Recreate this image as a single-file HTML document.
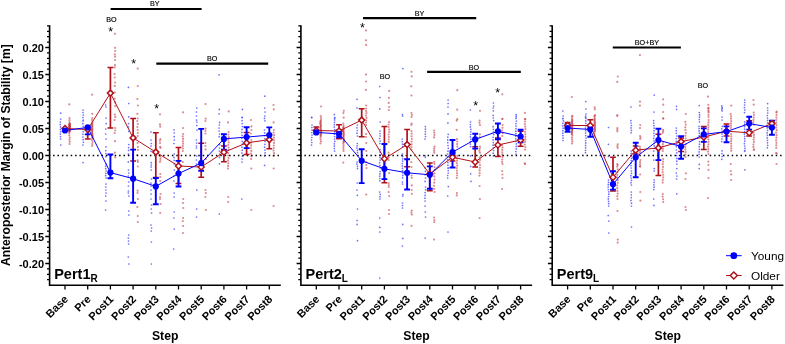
<!DOCTYPE html>
<html><head><meta charset="utf-8"><title>Margin of Stability</title><style>
html,body{margin:0;padding:0;background:#fff;}
body{width:785px;height:344px;overflow:hidden;}
svg{display:block;}
text{font-family:"Liberation Sans",Arial,sans-serif;fill:#000;}
.xl{font-size:11px;font-weight:bold;}
.yl{font-size:11px;font-weight:bold;}
.yt{font-size:12.1px;font-weight:bold;}
.st{font-size:12.2px;font-weight:bold;}
.pn{font-size:14.5px;font-weight:bold;}
.sub{font-size:10px;}
.an{font-size:7.2px;stroke:#000;stroke-width:0.15px;}
.ast{font-size:12.5px;font-weight:normal;}
.lg{font-size:11.8px;}
</style></head>
<body>
<svg width="785" height="344" viewBox="0 0 785 344">
<rect width="785" height="344" fill="#fff"/>
<circle cx="60.7" cy="113.2" r="0.85" fill="#4848ff" fill-opacity="0.8"/>
<circle cx="60.7" cy="119.0" r="0.85" fill="#4848ff" fill-opacity="0.8"/>
<circle cx="60.4" cy="122.0" r="0.85" fill="#4848ff" fill-opacity="0.8"/>
<circle cx="60.3" cy="124.4" r="0.85" fill="#4848ff" fill-opacity="0.8"/>
<circle cx="60.5" cy="126.9" r="0.85" fill="#4848ff" fill-opacity="0.8"/>
<circle cx="60.4" cy="129.3" r="0.85" fill="#4848ff" fill-opacity="0.8"/>
<circle cx="60.7" cy="131.7" r="0.85" fill="#4848ff" fill-opacity="0.8"/>
<circle cx="60.4" cy="134.1" r="0.85" fill="#4848ff" fill-opacity="0.8"/>
<circle cx="60.5" cy="136.6" r="0.85" fill="#4848ff" fill-opacity="0.8"/>
<circle cx="60.6" cy="139.0" r="0.85" fill="#4848ff" fill-opacity="0.8"/>
<circle cx="60.8" cy="145.0" r="0.85" fill="#4848ff" fill-opacity="0.8"/>
<circle cx="83.1" cy="110.0" r="0.85" fill="#4848ff" fill-opacity="0.8"/>
<circle cx="83.0" cy="112.5" r="0.85" fill="#4848ff" fill-opacity="0.8"/>
<circle cx="83.3" cy="115.0" r="0.85" fill="#4848ff" fill-opacity="0.8"/>
<circle cx="82.9" cy="117.5" r="0.85" fill="#4848ff" fill-opacity="0.8"/>
<circle cx="83.2" cy="120.0" r="0.85" fill="#4848ff" fill-opacity="0.8"/>
<circle cx="83.1" cy="121.0" r="0.85" fill="#4848ff" fill-opacity="0.8"/>
<circle cx="82.9" cy="123.7" r="0.85" fill="#4848ff" fill-opacity="0.8"/>
<circle cx="83.2" cy="126.3" r="0.85" fill="#4848ff" fill-opacity="0.8"/>
<circle cx="82.9" cy="129.0" r="0.85" fill="#4848ff" fill-opacity="0.8"/>
<circle cx="83.2" cy="131.7" r="0.85" fill="#4848ff" fill-opacity="0.8"/>
<circle cx="82.9" cy="134.3" r="0.85" fill="#4848ff" fill-opacity="0.8"/>
<circle cx="82.9" cy="137.0" r="0.85" fill="#4848ff" fill-opacity="0.8"/>
<circle cx="83.1" cy="139.7" r="0.85" fill="#4848ff" fill-opacity="0.8"/>
<circle cx="83.4" cy="142.3" r="0.85" fill="#4848ff" fill-opacity="0.8"/>
<circle cx="82.9" cy="145.0" r="0.85" fill="#4848ff" fill-opacity="0.8"/>
<circle cx="83.0" cy="162.6" r="0.85" fill="#4848ff" fill-opacity="0.8"/>
<circle cx="105.6" cy="105.0" r="0.85" fill="#4848ff" fill-opacity="0.8"/>
<circle cx="106.0" cy="107.0" r="0.85" fill="#4848ff" fill-opacity="0.8"/>
<circle cx="106.0" cy="118.0" r="0.85" fill="#4848ff" fill-opacity="0.8"/>
<circle cx="106.2" cy="123.6" r="0.85" fill="#4848ff" fill-opacity="0.8"/>
<circle cx="105.7" cy="129.0" r="0.85" fill="#4848ff" fill-opacity="0.8"/>
<circle cx="105.7" cy="134.0" r="0.85" fill="#4848ff" fill-opacity="0.8"/>
<circle cx="106.1" cy="139.0" r="0.85" fill="#4848ff" fill-opacity="0.8"/>
<circle cx="106.0" cy="146.8" r="0.85" fill="#4848ff" fill-opacity="0.8"/>
<circle cx="105.8" cy="150.6" r="0.85" fill="#4848ff" fill-opacity="0.8"/>
<circle cx="106.0" cy="153.6" r="0.85" fill="#4848ff" fill-opacity="0.8"/>
<circle cx="105.8" cy="156.6" r="0.85" fill="#4848ff" fill-opacity="0.8"/>
<circle cx="106.1" cy="164.0" r="0.85" fill="#4848ff" fill-opacity="0.8"/>
<circle cx="105.6" cy="166.3" r="0.85" fill="#4848ff" fill-opacity="0.8"/>
<circle cx="105.7" cy="168.7" r="0.85" fill="#4848ff" fill-opacity="0.8"/>
<circle cx="106.2" cy="171.0" r="0.85" fill="#4848ff" fill-opacity="0.8"/>
<circle cx="105.8" cy="173.3" r="0.85" fill="#4848ff" fill-opacity="0.8"/>
<circle cx="105.7" cy="175.7" r="0.85" fill="#4848ff" fill-opacity="0.8"/>
<circle cx="106.1" cy="178.0" r="0.85" fill="#4848ff" fill-opacity="0.8"/>
<circle cx="106.0" cy="184.0" r="0.85" fill="#4848ff" fill-opacity="0.8"/>
<circle cx="105.7" cy="187.0" r="0.85" fill="#4848ff" fill-opacity="0.8"/>
<circle cx="105.9" cy="190.0" r="0.85" fill="#4848ff" fill-opacity="0.8"/>
<circle cx="106.0" cy="193.0" r="0.85" fill="#4848ff" fill-opacity="0.8"/>
<circle cx="105.7" cy="196.0" r="0.85" fill="#4848ff" fill-opacity="0.8"/>
<circle cx="106.0" cy="201.0" r="0.85" fill="#4848ff" fill-opacity="0.8"/>
<circle cx="105.6" cy="210.0" r="0.85" fill="#4848ff" fill-opacity="0.8"/>
<circle cx="128.4" cy="87.4" r="0.85" fill="#4848ff" fill-opacity="0.8"/>
<circle cx="128.7" cy="103.5" r="0.85" fill="#4848ff" fill-opacity="0.8"/>
<circle cx="128.7" cy="116.8" r="0.85" fill="#4848ff" fill-opacity="0.8"/>
<circle cx="128.6" cy="123.6" r="0.85" fill="#4848ff" fill-opacity="0.8"/>
<circle cx="128.4" cy="127.0" r="0.85" fill="#4848ff" fill-opacity="0.8"/>
<circle cx="128.8" cy="131.3" r="0.85" fill="#4848ff" fill-opacity="0.8"/>
<circle cx="128.8" cy="144.5" r="0.85" fill="#4848ff" fill-opacity="0.8"/>
<circle cx="128.6" cy="147.6" r="0.85" fill="#4848ff" fill-opacity="0.8"/>
<circle cx="128.6" cy="150.4" r="0.85" fill="#4848ff" fill-opacity="0.8"/>
<circle cx="128.4" cy="154.2" r="0.85" fill="#4848ff" fill-opacity="0.8"/>
<circle cx="128.3" cy="161.9" r="0.85" fill="#4848ff" fill-opacity="0.8"/>
<circle cx="128.5" cy="170.0" r="0.85" fill="#4848ff" fill-opacity="0.8"/>
<circle cx="128.7" cy="173.0" r="0.85" fill="#4848ff" fill-opacity="0.8"/>
<circle cx="128.3" cy="176.0" r="0.85" fill="#4848ff" fill-opacity="0.8"/>
<circle cx="128.8" cy="182.0" r="0.85" fill="#4848ff" fill-opacity="0.8"/>
<circle cx="128.4" cy="186.0" r="0.85" fill="#4848ff" fill-opacity="0.8"/>
<circle cx="128.4" cy="191.0" r="0.85" fill="#4848ff" fill-opacity="0.8"/>
<circle cx="128.3" cy="193.0" r="0.85" fill="#4848ff" fill-opacity="0.8"/>
<circle cx="128.9" cy="196.0" r="0.85" fill="#4848ff" fill-opacity="0.8"/>
<circle cx="128.8" cy="211.0" r="0.85" fill="#4848ff" fill-opacity="0.8"/>
<circle cx="128.9" cy="215.0" r="0.85" fill="#4848ff" fill-opacity="0.8"/>
<circle cx="128.7" cy="235.0" r="0.85" fill="#4848ff" fill-opacity="0.8"/>
<circle cx="128.3" cy="238.0" r="0.85" fill="#4848ff" fill-opacity="0.8"/>
<circle cx="128.5" cy="241.0" r="0.85" fill="#4848ff" fill-opacity="0.8"/>
<circle cx="128.6" cy="244.0" r="0.85" fill="#4848ff" fill-opacity="0.8"/>
<circle cx="128.3" cy="257.0" r="0.85" fill="#4848ff" fill-opacity="0.8"/>
<circle cx="128.9" cy="264.0" r="0.85" fill="#4848ff" fill-opacity="0.8"/>
<circle cx="151.0" cy="132.0" r="0.85" fill="#4848ff" fill-opacity="0.8"/>
<circle cx="151.0" cy="140.0" r="0.85" fill="#4848ff" fill-opacity="0.8"/>
<circle cx="151.4" cy="143.5" r="0.85" fill="#4848ff" fill-opacity="0.8"/>
<circle cx="151.1" cy="146.0" r="0.85" fill="#4848ff" fill-opacity="0.8"/>
<circle cx="151.0" cy="151.3" r="0.85" fill="#4848ff" fill-opacity="0.8"/>
<circle cx="151.3" cy="162.7" r="0.85" fill="#4848ff" fill-opacity="0.8"/>
<circle cx="151.2" cy="165.0" r="0.85" fill="#4848ff" fill-opacity="0.8"/>
<circle cx="151.1" cy="167.0" r="0.85" fill="#4848ff" fill-opacity="0.8"/>
<circle cx="151.2" cy="170.0" r="0.85" fill="#4848ff" fill-opacity="0.8"/>
<circle cx="151.5" cy="179.0" r="0.85" fill="#4848ff" fill-opacity="0.8"/>
<circle cx="151.0" cy="183.0" r="0.85" fill="#4848ff" fill-opacity="0.8"/>
<circle cx="151.1" cy="186.0" r="0.85" fill="#4848ff" fill-opacity="0.8"/>
<circle cx="151.0" cy="190.0" r="0.85" fill="#4848ff" fill-opacity="0.8"/>
<circle cx="151.1" cy="194.0" r="0.85" fill="#4848ff" fill-opacity="0.8"/>
<circle cx="151.0" cy="199.0" r="0.85" fill="#4848ff" fill-opacity="0.8"/>
<circle cx="151.6" cy="205.0" r="0.85" fill="#4848ff" fill-opacity="0.8"/>
<circle cx="151.2" cy="209.0" r="0.85" fill="#4848ff" fill-opacity="0.8"/>
<circle cx="151.6" cy="213.0" r="0.85" fill="#4848ff" fill-opacity="0.8"/>
<circle cx="151.0" cy="225.0" r="0.85" fill="#4848ff" fill-opacity="0.8"/>
<circle cx="151.6" cy="228.0" r="0.85" fill="#4848ff" fill-opacity="0.8"/>
<circle cx="151.3" cy="231.0" r="0.85" fill="#4848ff" fill-opacity="0.8"/>
<circle cx="151.4" cy="242.0" r="0.85" fill="#4848ff" fill-opacity="0.8"/>
<circle cx="151.4" cy="264.0" r="0.85" fill="#4848ff" fill-opacity="0.8"/>
<circle cx="174.0" cy="129.8" r="0.85" fill="#4848ff" fill-opacity="0.8"/>
<circle cx="174.2" cy="133.0" r="0.85" fill="#4848ff" fill-opacity="0.8"/>
<circle cx="174.2" cy="136.7" r="0.85" fill="#4848ff" fill-opacity="0.8"/>
<circle cx="174.3" cy="140.0" r="0.85" fill="#4848ff" fill-opacity="0.8"/>
<circle cx="173.9" cy="143.5" r="0.85" fill="#4848ff" fill-opacity="0.8"/>
<circle cx="174.3" cy="154.0" r="0.85" fill="#4848ff" fill-opacity="0.8"/>
<circle cx="174.0" cy="157.4" r="0.85" fill="#4848ff" fill-opacity="0.8"/>
<circle cx="174.2" cy="160.3" r="0.85" fill="#4848ff" fill-opacity="0.8"/>
<circle cx="174.2" cy="163.8" r="0.85" fill="#4848ff" fill-opacity="0.8"/>
<circle cx="174.3" cy="170.0" r="0.85" fill="#4848ff" fill-opacity="0.8"/>
<circle cx="173.8" cy="176.0" r="0.85" fill="#4848ff" fill-opacity="0.8"/>
<circle cx="173.9" cy="181.0" r="0.85" fill="#4848ff" fill-opacity="0.8"/>
<circle cx="174.2" cy="193.0" r="0.85" fill="#4848ff" fill-opacity="0.8"/>
<circle cx="174.1" cy="197.0" r="0.85" fill="#4848ff" fill-opacity="0.8"/>
<circle cx="174.2" cy="212.0" r="0.85" fill="#4848ff" fill-opacity="0.8"/>
<circle cx="173.9" cy="218.0" r="0.85" fill="#4848ff" fill-opacity="0.8"/>
<circle cx="174.3" cy="229.0" r="0.85" fill="#4848ff" fill-opacity="0.8"/>
<circle cx="173.7" cy="249.0" r="0.85" fill="#4848ff" fill-opacity="0.8"/>
<circle cx="196.8" cy="108.0" r="0.85" fill="#4848ff" fill-opacity="0.8"/>
<circle cx="196.4" cy="112.0" r="0.85" fill="#4848ff" fill-opacity="0.8"/>
<circle cx="196.5" cy="116.0" r="0.85" fill="#4848ff" fill-opacity="0.8"/>
<circle cx="196.5" cy="120.0" r="0.85" fill="#4848ff" fill-opacity="0.8"/>
<circle cx="196.9" cy="122.0" r="0.85" fill="#4848ff" fill-opacity="0.8"/>
<circle cx="196.8" cy="125.5" r="0.85" fill="#4848ff" fill-opacity="0.8"/>
<circle cx="197.0" cy="130.0" r="0.85" fill="#4848ff" fill-opacity="0.8"/>
<circle cx="196.4" cy="140.0" r="0.85" fill="#4848ff" fill-opacity="0.8"/>
<circle cx="196.6" cy="143.0" r="0.85" fill="#4848ff" fill-opacity="0.8"/>
<circle cx="196.4" cy="146.0" r="0.85" fill="#4848ff" fill-opacity="0.8"/>
<circle cx="196.5" cy="148.0" r="0.85" fill="#4848ff" fill-opacity="0.8"/>
<circle cx="196.7" cy="156.0" r="0.85" fill="#4848ff" fill-opacity="0.8"/>
<circle cx="196.4" cy="160.0" r="0.85" fill="#4848ff" fill-opacity="0.8"/>
<circle cx="196.5" cy="164.0" r="0.85" fill="#4848ff" fill-opacity="0.8"/>
<circle cx="196.8" cy="190.0" r="0.85" fill="#4848ff" fill-opacity="0.8"/>
<circle cx="196.7" cy="209.0" r="0.85" fill="#4848ff" fill-opacity="0.8"/>
<circle cx="196.5" cy="217.0" r="0.85" fill="#4848ff" fill-opacity="0.8"/>
<circle cx="219.1" cy="74.8" r="0.85" fill="#4848ff" fill-opacity="0.8"/>
<circle cx="219.3" cy="109.4" r="0.85" fill="#4848ff" fill-opacity="0.8"/>
<circle cx="219.1" cy="113.8" r="0.85" fill="#4848ff" fill-opacity="0.8"/>
<circle cx="219.6" cy="122.4" r="0.85" fill="#4848ff" fill-opacity="0.8"/>
<circle cx="219.4" cy="125.0" r="0.85" fill="#4848ff" fill-opacity="0.8"/>
<circle cx="219.1" cy="128.0" r="0.85" fill="#4848ff" fill-opacity="0.8"/>
<circle cx="219.1" cy="131.0" r="0.85" fill="#4848ff" fill-opacity="0.8"/>
<circle cx="219.6" cy="134.0" r="0.85" fill="#4848ff" fill-opacity="0.8"/>
<circle cx="219.2" cy="136.7" r="0.85" fill="#4848ff" fill-opacity="0.8"/>
<circle cx="219.6" cy="144.7" r="0.85" fill="#4848ff" fill-opacity="0.8"/>
<circle cx="219.5" cy="148.0" r="0.85" fill="#4848ff" fill-opacity="0.8"/>
<circle cx="219.4" cy="151.0" r="0.85" fill="#4848ff" fill-opacity="0.8"/>
<circle cx="219.6" cy="154.0" r="0.85" fill="#4848ff" fill-opacity="0.8"/>
<circle cx="219.5" cy="157.4" r="0.85" fill="#4848ff" fill-opacity="0.8"/>
<circle cx="219.5" cy="163.8" r="0.85" fill="#4848ff" fill-opacity="0.8"/>
<circle cx="219.3" cy="214.0" r="0.85" fill="#4848ff" fill-opacity="0.8"/>
<circle cx="242.4" cy="109.4" r="0.85" fill="#4848ff" fill-opacity="0.8"/>
<circle cx="242.1" cy="117.3" r="0.85" fill="#4848ff" fill-opacity="0.8"/>
<circle cx="242.1" cy="117.6" r="0.85" fill="#4848ff" fill-opacity="0.8"/>
<circle cx="242.1" cy="120.6" r="0.85" fill="#4848ff" fill-opacity="0.8"/>
<circle cx="242.3" cy="123.5" r="0.85" fill="#4848ff" fill-opacity="0.8"/>
<circle cx="242.4" cy="126.5" r="0.85" fill="#4848ff" fill-opacity="0.8"/>
<circle cx="242.0" cy="129.4" r="0.85" fill="#4848ff" fill-opacity="0.8"/>
<circle cx="241.9" cy="132.4" r="0.85" fill="#4848ff" fill-opacity="0.8"/>
<circle cx="242.0" cy="135.4" r="0.85" fill="#4848ff" fill-opacity="0.8"/>
<circle cx="241.8" cy="138.3" r="0.85" fill="#4848ff" fill-opacity="0.8"/>
<circle cx="242.2" cy="141.3" r="0.85" fill="#4848ff" fill-opacity="0.8"/>
<circle cx="242.4" cy="144.2" r="0.85" fill="#4848ff" fill-opacity="0.8"/>
<circle cx="241.9" cy="147.2" r="0.85" fill="#4848ff" fill-opacity="0.8"/>
<circle cx="242.3" cy="150.2" r="0.85" fill="#4848ff" fill-opacity="0.8"/>
<circle cx="241.9" cy="153.1" r="0.85" fill="#4848ff" fill-opacity="0.8"/>
<circle cx="242.4" cy="156.1" r="0.85" fill="#4848ff" fill-opacity="0.8"/>
<circle cx="242.1" cy="159.0" r="0.85" fill="#4848ff" fill-opacity="0.8"/>
<circle cx="242.0" cy="162.0" r="0.85" fill="#4848ff" fill-opacity="0.8"/>
<circle cx="241.8" cy="199.0" r="0.85" fill="#4848ff" fill-opacity="0.8"/>
<circle cx="264.8" cy="96.2" r="0.85" fill="#4848ff" fill-opacity="0.8"/>
<circle cx="264.7" cy="108.0" r="0.85" fill="#4848ff" fill-opacity="0.8"/>
<circle cx="265.1" cy="112.0" r="0.85" fill="#4848ff" fill-opacity="0.8"/>
<circle cx="264.8" cy="116.0" r="0.85" fill="#4848ff" fill-opacity="0.8"/>
<circle cx="264.5" cy="118.4" r="0.85" fill="#4848ff" fill-opacity="0.8"/>
<circle cx="265.0" cy="120.8" r="0.85" fill="#4848ff" fill-opacity="0.8"/>
<circle cx="264.5" cy="130.0" r="0.85" fill="#4848ff" fill-opacity="0.8"/>
<circle cx="264.6" cy="132.9" r="0.85" fill="#4848ff" fill-opacity="0.8"/>
<circle cx="264.5" cy="135.7" r="0.85" fill="#4848ff" fill-opacity="0.8"/>
<circle cx="264.9" cy="138.6" r="0.85" fill="#4848ff" fill-opacity="0.8"/>
<circle cx="265.0" cy="141.5" r="0.85" fill="#4848ff" fill-opacity="0.8"/>
<circle cx="264.9" cy="144.3" r="0.85" fill="#4848ff" fill-opacity="0.8"/>
<circle cx="264.6" cy="147.2" r="0.85" fill="#4848ff" fill-opacity="0.8"/>
<circle cx="265.0" cy="150.1" r="0.85" fill="#4848ff" fill-opacity="0.8"/>
<circle cx="265.1" cy="152.9" r="0.85" fill="#4848ff" fill-opacity="0.8"/>
<circle cx="264.7" cy="155.8" r="0.85" fill="#4848ff" fill-opacity="0.8"/>
<circle cx="264.6" cy="165.4" r="0.85" fill="#4848ff" fill-opacity="0.8"/>
<circle cx="69.3" cy="104.4" r="1.1" fill="#c0303a" fill-opacity="0.55"/>
<circle cx="69.5" cy="118.0" r="1.1" fill="#c0303a" fill-opacity="0.55"/>
<circle cx="69.4" cy="120.2" r="1.1" fill="#c0303a" fill-opacity="0.55"/>
<circle cx="69.6" cy="122.3" r="1.1" fill="#c0303a" fill-opacity="0.55"/>
<circle cx="69.6" cy="124.5" r="1.1" fill="#c0303a" fill-opacity="0.55"/>
<circle cx="69.2" cy="126.7" r="1.1" fill="#c0303a" fill-opacity="0.55"/>
<circle cx="69.2" cy="128.8" r="1.1" fill="#c0303a" fill-opacity="0.55"/>
<circle cx="69.7" cy="131.0" r="1.1" fill="#c0303a" fill-opacity="0.55"/>
<circle cx="69.3" cy="133.2" r="1.1" fill="#c0303a" fill-opacity="0.55"/>
<circle cx="69.3" cy="135.3" r="1.1" fill="#c0303a" fill-opacity="0.55"/>
<circle cx="69.8" cy="137.5" r="1.1" fill="#c0303a" fill-opacity="0.55"/>
<circle cx="69.5" cy="139.7" r="1.1" fill="#c0303a" fill-opacity="0.55"/>
<circle cx="69.7" cy="141.8" r="1.1" fill="#c0303a" fill-opacity="0.55"/>
<circle cx="69.5" cy="144.0" r="1.1" fill="#c0303a" fill-opacity="0.55"/>
<circle cx="69.6" cy="123.5" r="1.1" fill="#c0303a" fill-opacity="0.55"/>
<circle cx="69.3" cy="124.3" r="1.1" fill="#c0303a" fill-opacity="0.55"/>
<circle cx="69.6" cy="125.0" r="1.1" fill="#c0303a" fill-opacity="0.55"/>
<circle cx="69.8" cy="125.8" r="1.1" fill="#c0303a" fill-opacity="0.55"/>
<circle cx="69.5" cy="126.6" r="1.1" fill="#c0303a" fill-opacity="0.55"/>
<circle cx="69.7" cy="127.4" r="1.1" fill="#c0303a" fill-opacity="0.55"/>
<circle cx="69.6" cy="128.1" r="1.1" fill="#c0303a" fill-opacity="0.55"/>
<circle cx="69.2" cy="128.9" r="1.1" fill="#c0303a" fill-opacity="0.55"/>
<circle cx="69.7" cy="129.7" r="1.1" fill="#c0303a" fill-opacity="0.55"/>
<circle cx="69.6" cy="130.5" r="1.1" fill="#c0303a" fill-opacity="0.55"/>
<circle cx="69.4" cy="131.2" r="1.1" fill="#c0303a" fill-opacity="0.55"/>
<circle cx="69.2" cy="132.0" r="1.1" fill="#c0303a" fill-opacity="0.55"/>
<circle cx="69.8" cy="124.0" r="1.1" fill="#c0303a" fill-opacity="0.55"/>
<circle cx="69.5" cy="124.9" r="1.1" fill="#c0303a" fill-opacity="0.55"/>
<circle cx="69.7" cy="125.8" r="1.1" fill="#c0303a" fill-opacity="0.55"/>
<circle cx="69.8" cy="126.6" r="1.1" fill="#c0303a" fill-opacity="0.55"/>
<circle cx="69.6" cy="127.5" r="1.1" fill="#c0303a" fill-opacity="0.55"/>
<circle cx="69.8" cy="128.4" r="1.1" fill="#c0303a" fill-opacity="0.55"/>
<circle cx="69.4" cy="129.2" r="1.1" fill="#c0303a" fill-opacity="0.55"/>
<circle cx="69.7" cy="130.1" r="1.1" fill="#c0303a" fill-opacity="0.55"/>
<circle cx="69.5" cy="131.0" r="1.1" fill="#c0303a" fill-opacity="0.55"/>
<circle cx="92.2" cy="94.7" r="1.1" fill="#c0303a" fill-opacity="0.55"/>
<circle cx="92.2" cy="113.8" r="1.1" fill="#c0303a" fill-opacity="0.55"/>
<circle cx="92.3" cy="118.0" r="1.1" fill="#c0303a" fill-opacity="0.55"/>
<circle cx="92.0" cy="120.0" r="1.1" fill="#c0303a" fill-opacity="0.55"/>
<circle cx="92.4" cy="122.0" r="1.1" fill="#c0303a" fill-opacity="0.55"/>
<circle cx="92.4" cy="124.0" r="1.1" fill="#c0303a" fill-opacity="0.55"/>
<circle cx="92.3" cy="126.0" r="1.1" fill="#c0303a" fill-opacity="0.55"/>
<circle cx="92.0" cy="128.0" r="1.1" fill="#c0303a" fill-opacity="0.55"/>
<circle cx="92.2" cy="130.0" r="1.1" fill="#c0303a" fill-opacity="0.55"/>
<circle cx="92.1" cy="132.0" r="1.1" fill="#c0303a" fill-opacity="0.55"/>
<circle cx="92.0" cy="134.0" r="1.1" fill="#c0303a" fill-opacity="0.55"/>
<circle cx="92.5" cy="136.0" r="1.1" fill="#c0303a" fill-opacity="0.55"/>
<circle cx="92.5" cy="138.0" r="1.1" fill="#c0303a" fill-opacity="0.55"/>
<circle cx="91.9" cy="140.0" r="1.1" fill="#c0303a" fill-opacity="0.55"/>
<circle cx="92.5" cy="142.0" r="1.1" fill="#c0303a" fill-opacity="0.55"/>
<circle cx="92.3" cy="144.0" r="1.1" fill="#c0303a" fill-opacity="0.55"/>
<circle cx="92.1" cy="146.0" r="1.1" fill="#c0303a" fill-opacity="0.55"/>
<circle cx="92.0" cy="124.0" r="1.1" fill="#c0303a" fill-opacity="0.55"/>
<circle cx="92.3" cy="125.6" r="1.1" fill="#c0303a" fill-opacity="0.55"/>
<circle cx="92.2" cy="127.1" r="1.1" fill="#c0303a" fill-opacity="0.55"/>
<circle cx="92.3" cy="128.7" r="1.1" fill="#c0303a" fill-opacity="0.55"/>
<circle cx="92.3" cy="130.2" r="1.1" fill="#c0303a" fill-opacity="0.55"/>
<circle cx="91.9" cy="131.8" r="1.1" fill="#c0303a" fill-opacity="0.55"/>
<circle cx="92.4" cy="133.3" r="1.1" fill="#c0303a" fill-opacity="0.55"/>
<circle cx="92.5" cy="134.9" r="1.1" fill="#c0303a" fill-opacity="0.55"/>
<circle cx="92.5" cy="136.4" r="1.1" fill="#c0303a" fill-opacity="0.55"/>
<circle cx="92.3" cy="138.0" r="1.1" fill="#c0303a" fill-opacity="0.55"/>
<circle cx="114.9" cy="33.8" r="1.1" fill="#c0303a" fill-opacity="0.55"/>
<circle cx="115.1" cy="47.8" r="1.1" fill="#c0303a" fill-opacity="0.55"/>
<circle cx="115.2" cy="51.0" r="1.1" fill="#c0303a" fill-opacity="0.55"/>
<circle cx="114.8" cy="54.4" r="1.1" fill="#c0303a" fill-opacity="0.55"/>
<circle cx="115.1" cy="56.7" r="1.1" fill="#c0303a" fill-opacity="0.55"/>
<circle cx="115.0" cy="60.0" r="1.1" fill="#c0303a" fill-opacity="0.55"/>
<circle cx="115.0" cy="65.1" r="1.1" fill="#c0303a" fill-opacity="0.55"/>
<circle cx="114.6" cy="67.4" r="1.1" fill="#c0303a" fill-opacity="0.55"/>
<circle cx="114.6" cy="74.1" r="1.1" fill="#c0303a" fill-opacity="0.55"/>
<circle cx="114.8" cy="77.5" r="1.1" fill="#c0303a" fill-opacity="0.55"/>
<circle cx="115.1" cy="82.5" r="1.1" fill="#c0303a" fill-opacity="0.55"/>
<circle cx="114.7" cy="85.9" r="1.1" fill="#c0303a" fill-opacity="0.55"/>
<circle cx="114.9" cy="92.5" r="1.1" fill="#c0303a" fill-opacity="0.55"/>
<circle cx="114.8" cy="98.6" r="1.1" fill="#c0303a" fill-opacity="0.55"/>
<circle cx="115.1" cy="102.4" r="1.1" fill="#c0303a" fill-opacity="0.55"/>
<circle cx="115.2" cy="106.2" r="1.1" fill="#c0303a" fill-opacity="0.55"/>
<circle cx="114.8" cy="114.6" r="1.1" fill="#c0303a" fill-opacity="0.55"/>
<circle cx="115.2" cy="116.9" r="1.1" fill="#c0303a" fill-opacity="0.55"/>
<circle cx="114.6" cy="120.0" r="1.1" fill="#c0303a" fill-opacity="0.55"/>
<circle cx="115.1" cy="128.0" r="1.1" fill="#c0303a" fill-opacity="0.55"/>
<circle cx="115.2" cy="130.5" r="1.1" fill="#c0303a" fill-opacity="0.55"/>
<circle cx="114.7" cy="133.0" r="1.1" fill="#c0303a" fill-opacity="0.55"/>
<circle cx="115.0" cy="141.2" r="1.1" fill="#c0303a" fill-opacity="0.55"/>
<circle cx="114.9" cy="152.7" r="1.1" fill="#c0303a" fill-opacity="0.55"/>
<circle cx="115.2" cy="157.3" r="1.1" fill="#c0303a" fill-opacity="0.55"/>
<circle cx="137.7" cy="68.6" r="1.1" fill="#c0303a" fill-opacity="0.55"/>
<circle cx="137.8" cy="86.0" r="1.1" fill="#c0303a" fill-opacity="0.55"/>
<circle cx="137.4" cy="99.0" r="1.1" fill="#c0303a" fill-opacity="0.55"/>
<circle cx="137.9" cy="105.5" r="1.1" fill="#c0303a" fill-opacity="0.55"/>
<circle cx="137.4" cy="113.9" r="1.1" fill="#c0303a" fill-opacity="0.55"/>
<circle cx="137.7" cy="118.5" r="1.1" fill="#c0303a" fill-opacity="0.55"/>
<circle cx="137.3" cy="121.0" r="1.1" fill="#c0303a" fill-opacity="0.55"/>
<circle cx="137.8" cy="124.0" r="1.1" fill="#c0303a" fill-opacity="0.55"/>
<circle cx="137.4" cy="127.0" r="1.1" fill="#c0303a" fill-opacity="0.55"/>
<circle cx="137.7" cy="130.0" r="1.1" fill="#c0303a" fill-opacity="0.55"/>
<circle cx="137.8" cy="133.0" r="1.1" fill="#c0303a" fill-opacity="0.55"/>
<circle cx="137.8" cy="136.0" r="1.1" fill="#c0303a" fill-opacity="0.55"/>
<circle cx="137.6" cy="143.0" r="1.1" fill="#c0303a" fill-opacity="0.55"/>
<circle cx="137.9" cy="147.0" r="1.1" fill="#c0303a" fill-opacity="0.55"/>
<circle cx="137.9" cy="149.8" r="1.1" fill="#c0303a" fill-opacity="0.55"/>
<circle cx="137.3" cy="155.0" r="1.1" fill="#c0303a" fill-opacity="0.55"/>
<circle cx="137.6" cy="160.4" r="1.1" fill="#c0303a" fill-opacity="0.55"/>
<circle cx="137.9" cy="162.0" r="1.1" fill="#c0303a" fill-opacity="0.55"/>
<circle cx="137.8" cy="166.5" r="1.1" fill="#c0303a" fill-opacity="0.55"/>
<circle cx="137.6" cy="190.7" r="1.1" fill="#c0303a" fill-opacity="0.55"/>
<circle cx="137.5" cy="193.0" r="1.1" fill="#c0303a" fill-opacity="0.55"/>
<circle cx="137.9" cy="199.0" r="1.1" fill="#c0303a" fill-opacity="0.55"/>
<circle cx="137.3" cy="207.0" r="1.1" fill="#c0303a" fill-opacity="0.55"/>
<circle cx="137.8" cy="216.0" r="1.1" fill="#c0303a" fill-opacity="0.55"/>
<circle cx="137.8" cy="222.0" r="1.1" fill="#c0303a" fill-opacity="0.55"/>
<circle cx="160.0" cy="114.3" r="1.1" fill="#c0303a" fill-opacity="0.55"/>
<circle cx="160.0" cy="124.4" r="1.1" fill="#c0303a" fill-opacity="0.55"/>
<circle cx="160.2" cy="126.7" r="1.1" fill="#c0303a" fill-opacity="0.55"/>
<circle cx="160.4" cy="139.0" r="1.1" fill="#c0303a" fill-opacity="0.55"/>
<circle cx="160.0" cy="140.5" r="1.1" fill="#c0303a" fill-opacity="0.55"/>
<circle cx="160.0" cy="143.0" r="1.1" fill="#c0303a" fill-opacity="0.55"/>
<circle cx="160.1" cy="146.8" r="1.1" fill="#c0303a" fill-opacity="0.55"/>
<circle cx="160.5" cy="148.0" r="1.1" fill="#c0303a" fill-opacity="0.55"/>
<circle cx="160.1" cy="156.0" r="1.1" fill="#c0303a" fill-opacity="0.55"/>
<circle cx="160.5" cy="158.0" r="1.1" fill="#c0303a" fill-opacity="0.55"/>
<circle cx="160.4" cy="160.0" r="1.1" fill="#c0303a" fill-opacity="0.55"/>
<circle cx="160.0" cy="162.0" r="1.1" fill="#c0303a" fill-opacity="0.55"/>
<circle cx="160.3" cy="174.0" r="1.1" fill="#c0303a" fill-opacity="0.55"/>
<circle cx="160.3" cy="177.0" r="1.1" fill="#c0303a" fill-opacity="0.55"/>
<circle cx="160.2" cy="181.0" r="1.1" fill="#c0303a" fill-opacity="0.55"/>
<circle cx="160.6" cy="194.0" r="1.1" fill="#c0303a" fill-opacity="0.55"/>
<circle cx="160.0" cy="197.0" r="1.1" fill="#c0303a" fill-opacity="0.55"/>
<circle cx="160.0" cy="199.0" r="1.1" fill="#c0303a" fill-opacity="0.55"/>
<circle cx="160.6" cy="204.0" r="1.1" fill="#c0303a" fill-opacity="0.55"/>
<circle cx="160.2" cy="213.0" r="1.1" fill="#c0303a" fill-opacity="0.55"/>
<circle cx="183.1" cy="112.3" r="1.1" fill="#c0303a" fill-opacity="0.55"/>
<circle cx="183.0" cy="128.0" r="1.1" fill="#c0303a" fill-opacity="0.55"/>
<circle cx="183.2" cy="134.0" r="1.1" fill="#c0303a" fill-opacity="0.55"/>
<circle cx="182.7" cy="136.4" r="1.1" fill="#c0303a" fill-opacity="0.55"/>
<circle cx="183.1" cy="138.9" r="1.1" fill="#c0303a" fill-opacity="0.55"/>
<circle cx="182.9" cy="141.3" r="1.1" fill="#c0303a" fill-opacity="0.55"/>
<circle cx="183.1" cy="143.7" r="1.1" fill="#c0303a" fill-opacity="0.55"/>
<circle cx="182.8" cy="146.1" r="1.1" fill="#c0303a" fill-opacity="0.55"/>
<circle cx="182.9" cy="148.6" r="1.1" fill="#c0303a" fill-opacity="0.55"/>
<circle cx="182.8" cy="151.0" r="1.1" fill="#c0303a" fill-opacity="0.55"/>
<circle cx="182.9" cy="162.0" r="1.1" fill="#c0303a" fill-opacity="0.55"/>
<circle cx="183.2" cy="199.0" r="1.1" fill="#c0303a" fill-opacity="0.55"/>
<circle cx="183.0" cy="203.0" r="1.1" fill="#c0303a" fill-opacity="0.55"/>
<circle cx="183.3" cy="208.0" r="1.1" fill="#c0303a" fill-opacity="0.55"/>
<circle cx="183.1" cy="218.0" r="1.1" fill="#c0303a" fill-opacity="0.55"/>
<circle cx="182.8" cy="221.0" r="1.1" fill="#c0303a" fill-opacity="0.55"/>
<circle cx="183.1" cy="226.0" r="1.1" fill="#c0303a" fill-opacity="0.55"/>
<circle cx="183.0" cy="233.0" r="1.1" fill="#c0303a" fill-opacity="0.55"/>
<circle cx="205.5" cy="104.1" r="1.1" fill="#c0303a" fill-opacity="0.55"/>
<circle cx="205.7" cy="118.7" r="1.1" fill="#c0303a" fill-opacity="0.55"/>
<circle cx="205.4" cy="121.0" r="1.1" fill="#c0303a" fill-opacity="0.55"/>
<circle cx="205.6" cy="128.7" r="1.1" fill="#c0303a" fill-opacity="0.55"/>
<circle cx="205.4" cy="131.0" r="1.1" fill="#c0303a" fill-opacity="0.55"/>
<circle cx="205.4" cy="133.5" r="1.1" fill="#c0303a" fill-opacity="0.55"/>
<circle cx="205.5" cy="143.0" r="1.1" fill="#c0303a" fill-opacity="0.55"/>
<circle cx="205.4" cy="146.0" r="1.1" fill="#c0303a" fill-opacity="0.55"/>
<circle cx="205.6" cy="149.4" r="1.1" fill="#c0303a" fill-opacity="0.55"/>
<circle cx="205.9" cy="159.0" r="1.1" fill="#c0303a" fill-opacity="0.55"/>
<circle cx="205.4" cy="190.0" r="1.1" fill="#c0303a" fill-opacity="0.55"/>
<circle cx="205.8" cy="193.0" r="1.1" fill="#c0303a" fill-opacity="0.55"/>
<circle cx="205.4" cy="197.0" r="1.1" fill="#c0303a" fill-opacity="0.55"/>
<circle cx="205.9" cy="210.0" r="1.1" fill="#c0303a" fill-opacity="0.55"/>
<circle cx="228.7" cy="111.4" r="1.1" fill="#c0303a" fill-opacity="0.55"/>
<circle cx="228.1" cy="122.4" r="1.1" fill="#c0303a" fill-opacity="0.55"/>
<circle cx="228.6" cy="132.0" r="1.1" fill="#c0303a" fill-opacity="0.55"/>
<circle cx="228.4" cy="134.6" r="1.1" fill="#c0303a" fill-opacity="0.55"/>
<circle cx="228.7" cy="137.2" r="1.1" fill="#c0303a" fill-opacity="0.55"/>
<circle cx="228.3" cy="139.8" r="1.1" fill="#c0303a" fill-opacity="0.55"/>
<circle cx="228.7" cy="142.4" r="1.1" fill="#c0303a" fill-opacity="0.55"/>
<circle cx="228.2" cy="145.0" r="1.1" fill="#c0303a" fill-opacity="0.55"/>
<circle cx="228.7" cy="147.6" r="1.1" fill="#c0303a" fill-opacity="0.55"/>
<circle cx="228.3" cy="150.2" r="1.1" fill="#c0303a" fill-opacity="0.55"/>
<circle cx="228.2" cy="152.9" r="1.1" fill="#c0303a" fill-opacity="0.55"/>
<circle cx="228.3" cy="155.5" r="1.1" fill="#c0303a" fill-opacity="0.55"/>
<circle cx="228.5" cy="158.1" r="1.1" fill="#c0303a" fill-opacity="0.55"/>
<circle cx="228.1" cy="160.7" r="1.1" fill="#c0303a" fill-opacity="0.55"/>
<circle cx="228.3" cy="163.3" r="1.1" fill="#c0303a" fill-opacity="0.55"/>
<circle cx="228.1" cy="165.9" r="1.1" fill="#c0303a" fill-opacity="0.55"/>
<circle cx="228.1" cy="168.5" r="1.1" fill="#c0303a" fill-opacity="0.55"/>
<circle cx="228.2" cy="197.0" r="1.1" fill="#c0303a" fill-opacity="0.55"/>
<circle cx="228.2" cy="202.0" r="1.1" fill="#c0303a" fill-opacity="0.55"/>
<circle cx="250.9" cy="120.0" r="1.1" fill="#c0303a" fill-opacity="0.55"/>
<circle cx="251.4" cy="126.4" r="1.1" fill="#c0303a" fill-opacity="0.55"/>
<circle cx="251.4" cy="130.0" r="1.1" fill="#c0303a" fill-opacity="0.55"/>
<circle cx="250.8" cy="133.5" r="1.1" fill="#c0303a" fill-opacity="0.55"/>
<circle cx="251.3" cy="140.0" r="1.1" fill="#c0303a" fill-opacity="0.55"/>
<circle cx="251.3" cy="142.7" r="1.1" fill="#c0303a" fill-opacity="0.55"/>
<circle cx="251.2" cy="145.4" r="1.1" fill="#c0303a" fill-opacity="0.55"/>
<circle cx="250.8" cy="148.1" r="1.1" fill="#c0303a" fill-opacity="0.55"/>
<circle cx="251.3" cy="150.9" r="1.1" fill="#c0303a" fill-opacity="0.55"/>
<circle cx="251.0" cy="153.6" r="1.1" fill="#c0303a" fill-opacity="0.55"/>
<circle cx="251.3" cy="156.3" r="1.1" fill="#c0303a" fill-opacity="0.55"/>
<circle cx="251.1" cy="159.0" r="1.1" fill="#c0303a" fill-opacity="0.55"/>
<circle cx="251.3" cy="168.5" r="1.1" fill="#c0303a" fill-opacity="0.55"/>
<circle cx="251.3" cy="210.0" r="1.1" fill="#c0303a" fill-opacity="0.55"/>
<circle cx="273.5" cy="105.0" r="1.1" fill="#c0303a" fill-opacity="0.55"/>
<circle cx="273.8" cy="109.4" r="1.1" fill="#c0303a" fill-opacity="0.55"/>
<circle cx="273.6" cy="122.4" r="1.1" fill="#c0303a" fill-opacity="0.55"/>
<circle cx="273.8" cy="130.0" r="1.1" fill="#c0303a" fill-opacity="0.55"/>
<circle cx="273.6" cy="132.6" r="1.1" fill="#c0303a" fill-opacity="0.55"/>
<circle cx="274.1" cy="135.2" r="1.1" fill="#c0303a" fill-opacity="0.55"/>
<circle cx="273.8" cy="137.7" r="1.1" fill="#c0303a" fill-opacity="0.55"/>
<circle cx="274.0" cy="140.3" r="1.1" fill="#c0303a" fill-opacity="0.55"/>
<circle cx="274.1" cy="142.9" r="1.1" fill="#c0303a" fill-opacity="0.55"/>
<circle cx="273.8" cy="145.5" r="1.1" fill="#c0303a" fill-opacity="0.55"/>
<circle cx="273.8" cy="148.1" r="1.1" fill="#c0303a" fill-opacity="0.55"/>
<circle cx="273.5" cy="150.6" r="1.1" fill="#c0303a" fill-opacity="0.55"/>
<circle cx="274.0" cy="153.2" r="1.1" fill="#c0303a" fill-opacity="0.55"/>
<circle cx="273.5" cy="155.8" r="1.1" fill="#c0303a" fill-opacity="0.55"/>
<circle cx="273.7" cy="168.5" r="1.1" fill="#c0303a" fill-opacity="0.55"/>
<circle cx="273.6" cy="206.0" r="1.1" fill="#c0303a" fill-opacity="0.55"/>
<line x1="49.6" y1="155.5" x2="280.8" y2="155.5" stroke="#000" stroke-width="1.5" stroke-dasharray="1.5 2.9" stroke-dashoffset="0.9"/>
<polyline points="65.0,128.5 87.7,129.5 110.4,93.1 133.1,137.9 155.8,152.1 178.5,166.0 201.2,167.0 223.9,152.3 246.6,142.9 269.3,139.6" fill="none" stroke="#b0121b" stroke-width="1"/>
<polyline points="65.0,130.5 87.7,127.4 110.4,172.6 133.1,178.7 155.8,186.4 178.5,173.6 201.2,163.1 223.9,138.9 246.6,137.1 269.3,135.1" fill="none" stroke="#0000ff" stroke-width="1"/>
<path d="M87.7 129.5V138.9" stroke="#b0121b" stroke-width="1.7" fill="none"/>
<path d="M84.8 129.5H90.6M84.8 138.9H90.6" stroke="#b0121b" stroke-width="1.5" fill="none"/>
<path d="M110.4 67.5V128.0" stroke="#b0121b" stroke-width="1.7" fill="none"/>
<path d="M107.5 67.5H113.3M107.5 128.0H113.3" stroke="#b0121b" stroke-width="1.5" fill="none"/>
<path d="M133.1 118.4V160.9" stroke="#b0121b" stroke-width="1.7" fill="none"/>
<path d="M130.2 118.4H136.0M130.2 160.9H136.0" stroke="#b0121b" stroke-width="1.5" fill="none"/>
<path d="M155.8 132.8V177.5" stroke="#b0121b" stroke-width="1.7" fill="none"/>
<path d="M152.9 132.8H158.7M152.9 177.5H158.7" stroke="#b0121b" stroke-width="1.5" fill="none"/>
<path d="M178.5 147.5V183.6" stroke="#b0121b" stroke-width="1.7" fill="none"/>
<path d="M175.6 147.5H181.4M175.6 183.6H181.4" stroke="#b0121b" stroke-width="1.5" fill="none"/>
<path d="M201.2 143.2V177.2" stroke="#b0121b" stroke-width="1.7" fill="none"/>
<path d="M198.3 143.2H204.1M198.3 177.2H204.1" stroke="#b0121b" stroke-width="1.5" fill="none"/>
<path d="M223.9 146.0V161.8" stroke="#b0121b" stroke-width="1.7" fill="none"/>
<path d="M221.0 146.0H226.8M221.0 161.8H226.8" stroke="#b0121b" stroke-width="1.5" fill="none"/>
<path d="M246.6 132.4V154.6" stroke="#b0121b" stroke-width="1.7" fill="none"/>
<path d="M243.7 132.4H249.5M243.7 154.6H249.5" stroke="#b0121b" stroke-width="1.5" fill="none"/>
<path d="M269.3 135.0V148.8" stroke="#b0121b" stroke-width="1.7" fill="none"/>
<path d="M266.4 135.0H272.2M266.4 148.8H272.2" stroke="#b0121b" stroke-width="1.5" fill="none"/>
<path d="M87.7 127.4V134.4" stroke="#0000ff" stroke-width="1.9" fill="none"/>
<path d="M84.8 127.4H90.6M84.8 134.4H90.6" stroke="#0000ff" stroke-width="1.9" fill="none"/>
<path d="M110.4 154.5V178.2" stroke="#0000ff" stroke-width="1.9" fill="none"/>
<path d="M107.5 154.5H113.3M107.5 178.2H113.3" stroke="#0000ff" stroke-width="1.9" fill="none"/>
<path d="M133.1 149.6V202.8" stroke="#0000ff" stroke-width="1.9" fill="none"/>
<path d="M130.2 149.6H136.0M130.2 202.8H136.0" stroke="#0000ff" stroke-width="1.9" fill="none"/>
<path d="M155.8 178.0V204.2" stroke="#0000ff" stroke-width="1.9" fill="none"/>
<path d="M152.9 178.0H158.7M152.9 204.2H158.7" stroke="#0000ff" stroke-width="1.9" fill="none"/>
<path d="M178.5 160.9V186.5" stroke="#0000ff" stroke-width="1.9" fill="none"/>
<path d="M175.6 160.9H181.4M175.6 186.5H181.4" stroke="#0000ff" stroke-width="1.9" fill="none"/>
<path d="M201.2 128.9V170.7" stroke="#0000ff" stroke-width="1.9" fill="none"/>
<path d="M198.3 128.9H204.1M198.3 170.7H204.1" stroke="#0000ff" stroke-width="1.9" fill="none"/>
<path d="M223.9 134.2V149.8" stroke="#0000ff" stroke-width="1.9" fill="none"/>
<path d="M221.0 134.2H226.8M221.0 149.8H226.8" stroke="#0000ff" stroke-width="1.9" fill="none"/>
<path d="M246.6 127.2V148.1" stroke="#0000ff" stroke-width="1.9" fill="none"/>
<path d="M243.7 127.2H249.5M243.7 148.1H249.5" stroke="#0000ff" stroke-width="1.9" fill="none"/>
<path d="M269.3 127.4V139.6" stroke="#0000ff" stroke-width="1.9" fill="none"/>
<path d="M266.4 127.4H272.2M266.4 139.6H272.2" stroke="#0000ff" stroke-width="1.9" fill="none"/>
<path d="M65.0 125.5L68.0 128.5L65.0 131.5L62.0 128.5Z" fill="#fff" stroke="#b0121b" stroke-width="1.5"/>
<path d="M87.7 126.5L90.7 129.5L87.7 132.5L84.7 129.5Z" fill="#fff" stroke="#b0121b" stroke-width="1.5"/>
<path d="M110.4 90.1L113.4 93.1L110.4 96.1L107.4 93.1Z" fill="#fff" stroke="#b0121b" stroke-width="1.5"/>
<path d="M133.1 134.9L136.1 137.9L133.1 140.9L130.1 137.9Z" fill="#fff" stroke="#b0121b" stroke-width="1.5"/>
<path d="M155.8 149.1L158.8 152.1L155.8 155.1L152.8 152.1Z" fill="#fff" stroke="#b0121b" stroke-width="1.5"/>
<path d="M178.5 163.0L181.5 166.0L178.5 169.0L175.5 166.0Z" fill="#fff" stroke="#b0121b" stroke-width="1.5"/>
<path d="M201.2 164.0L204.2 167.0L201.2 170.0L198.2 167.0Z" fill="#fff" stroke="#b0121b" stroke-width="1.5"/>
<path d="M223.9 149.3L226.9 152.3L223.9 155.3L220.9 152.3Z" fill="#fff" stroke="#b0121b" stroke-width="1.5"/>
<path d="M246.6 139.9L249.6 142.9L246.6 145.9L243.6 142.9Z" fill="#fff" stroke="#b0121b" stroke-width="1.5"/>
<path d="M269.3 136.6L272.3 139.6L269.3 142.6L266.3 139.6Z" fill="#fff" stroke="#b0121b" stroke-width="1.5"/>
<circle cx="65.0" cy="130.5" r="3.1" fill="#0000ff"/>
<circle cx="87.7" cy="127.4" r="3.1" fill="#0000ff"/>
<circle cx="110.4" cy="172.6" r="3.1" fill="#0000ff"/>
<circle cx="133.1" cy="178.7" r="3.1" fill="#0000ff"/>
<circle cx="155.8" cy="186.4" r="3.1" fill="#0000ff"/>
<circle cx="178.5" cy="173.6" r="3.1" fill="#0000ff"/>
<circle cx="201.2" cy="163.1" r="3.1" fill="#0000ff"/>
<circle cx="223.9" cy="138.9" r="3.1" fill="#0000ff"/>
<circle cx="246.6" cy="137.1" r="3.1" fill="#0000ff"/>
<circle cx="269.3" cy="135.1" r="3.1" fill="#0000ff"/>
<path d="M49.6 25.3V285.3H280.8" fill="none" stroke="#000" stroke-width="1.6"/>
<path d="M47.0 279.70H49.6 M47.0 274.30H49.6 M47.0 268.90H49.6 M45.3 263.50H49.6 M47.0 258.10H49.6 M47.0 252.70H49.6 M47.0 247.30H49.6 M47.0 241.90H49.6 M45.3 236.50H49.6 M47.0 231.10H49.6 M47.0 225.70H49.6 M47.0 220.30H49.6 M47.0 214.90H49.6 M45.3 209.50H49.6 M47.0 204.10H49.6 M47.0 198.70H49.6 M47.0 193.30H49.6 M47.0 187.90H49.6 M45.3 182.50H49.6 M47.0 177.10H49.6 M47.0 171.70H49.6 M47.0 166.30H49.6 M47.0 160.90H49.6 M45.3 155.50H49.6 M47.0 150.10H49.6 M47.0 144.70H49.6 M47.0 139.30H49.6 M47.0 133.90H49.6 M45.3 128.50H49.6 M47.0 123.10H49.6 M47.0 117.70H49.6 M47.0 112.30H49.6 M47.0 106.90H49.6 M45.3 101.50H49.6 M47.0 96.10H49.6 M47.0 90.70H49.6 M47.0 85.30H49.6 M47.0 79.90H49.6 M45.3 74.50H49.6 M47.0 69.10H49.6 M47.0 63.70H49.6 M47.0 58.30H49.6 M47.0 52.90H49.6 M45.3 47.50H49.6 M47.0 42.10H49.6 M47.0 36.70H49.6 M47.0 31.30H49.6 M47.0 25.90H49.6" stroke="#000" stroke-width="1.3"/>
<path d="M65.0 285.3V289.6 M87.7 285.3V289.6 M110.4 285.3V289.6 M133.1 285.3V289.6 M155.8 285.3V289.6 M178.5 285.3V289.6 M201.2 285.3V289.6 M223.9 285.3V289.6 M246.6 285.3V289.6 M269.3 285.3V289.6" stroke="#000" stroke-width="1.3"/>
<text x="68.8" y="299.8" transform="rotate(-45 68.8 299.8)" text-anchor="end" class="xl">Base</text>
<text x="91.5" y="299.8" transform="rotate(-45 91.5 299.8)" text-anchor="end" class="xl">Pre</text>
<text x="114.2" y="299.8" transform="rotate(-45 114.2 299.8)" text-anchor="end" class="xl">Post1</text>
<text x="136.9" y="299.8" transform="rotate(-45 136.9 299.8)" text-anchor="end" class="xl">Post2</text>
<text x="159.6" y="299.8" transform="rotate(-45 159.6 299.8)" text-anchor="end" class="xl">Post3</text>
<text x="182.3" y="299.8" transform="rotate(-45 182.3 299.8)" text-anchor="end" class="xl">Post4</text>
<text x="205.0" y="299.8" transform="rotate(-45 205.0 299.8)" text-anchor="end" class="xl">Post5</text>
<text x="227.7" y="299.8" transform="rotate(-45 227.7 299.8)" text-anchor="end" class="xl">Post6</text>
<text x="250.4" y="299.8" transform="rotate(-45 250.4 299.8)" text-anchor="end" class="xl">Post7</text>
<text x="273.1" y="299.8" transform="rotate(-45 273.1 299.8)" text-anchor="end" class="xl">Post8</text>
<text x="165.2" y="340" text-anchor="middle" class="st">Step</text>
<circle cx="311.6" cy="117.4" r="0.85" fill="#4848ff" fill-opacity="0.8"/>
<circle cx="311.8" cy="117.5" r="0.85" fill="#4848ff" fill-opacity="0.8"/>
<circle cx="312.0" cy="125.0" r="0.85" fill="#4848ff" fill-opacity="0.8"/>
<circle cx="311.9" cy="127.5" r="0.85" fill="#4848ff" fill-opacity="0.8"/>
<circle cx="312.0" cy="130.0" r="0.85" fill="#4848ff" fill-opacity="0.8"/>
<circle cx="311.8" cy="132.5" r="0.85" fill="#4848ff" fill-opacity="0.8"/>
<circle cx="312.0" cy="135.0" r="0.85" fill="#4848ff" fill-opacity="0.8"/>
<circle cx="311.8" cy="137.5" r="0.85" fill="#4848ff" fill-opacity="0.8"/>
<circle cx="311.5" cy="140.0" r="0.85" fill="#4848ff" fill-opacity="0.8"/>
<circle cx="311.8" cy="142.5" r="0.85" fill="#4848ff" fill-opacity="0.8"/>
<circle cx="311.5" cy="145.0" r="0.85" fill="#4848ff" fill-opacity="0.8"/>
<circle cx="334.3" cy="114.6" r="0.85" fill="#4848ff" fill-opacity="0.8"/>
<circle cx="334.6" cy="118.2" r="0.85" fill="#4848ff" fill-opacity="0.8"/>
<circle cx="334.8" cy="117.5" r="0.85" fill="#4848ff" fill-opacity="0.8"/>
<circle cx="334.6" cy="119.9" r="0.85" fill="#4848ff" fill-opacity="0.8"/>
<circle cx="334.5" cy="122.3" r="0.85" fill="#4848ff" fill-opacity="0.8"/>
<circle cx="334.4" cy="124.7" r="0.85" fill="#4848ff" fill-opacity="0.8"/>
<circle cx="334.2" cy="127.1" r="0.85" fill="#4848ff" fill-opacity="0.8"/>
<circle cx="334.8" cy="129.5" r="0.85" fill="#4848ff" fill-opacity="0.8"/>
<circle cx="334.7" cy="131.9" r="0.85" fill="#4848ff" fill-opacity="0.8"/>
<circle cx="334.3" cy="134.2" r="0.85" fill="#4848ff" fill-opacity="0.8"/>
<circle cx="334.6" cy="136.6" r="0.85" fill="#4848ff" fill-opacity="0.8"/>
<circle cx="334.6" cy="139.0" r="0.85" fill="#4848ff" fill-opacity="0.8"/>
<circle cx="334.8" cy="141.4" r="0.85" fill="#4848ff" fill-opacity="0.8"/>
<circle cx="334.3" cy="143.8" r="0.85" fill="#4848ff" fill-opacity="0.8"/>
<circle cx="334.4" cy="146.2" r="0.85" fill="#4848ff" fill-opacity="0.8"/>
<circle cx="334.3" cy="148.6" r="0.85" fill="#4848ff" fill-opacity="0.8"/>
<circle cx="334.6" cy="151.0" r="0.85" fill="#4848ff" fill-opacity="0.8"/>
<circle cx="357.0" cy="99.3" r="0.85" fill="#4848ff" fill-opacity="0.8"/>
<circle cx="356.9" cy="108.0" r="0.85" fill="#4848ff" fill-opacity="0.8"/>
<circle cx="357.3" cy="125.0" r="0.85" fill="#4848ff" fill-opacity="0.8"/>
<circle cx="357.0" cy="127.8" r="0.85" fill="#4848ff" fill-opacity="0.8"/>
<circle cx="357.3" cy="130.5" r="0.85" fill="#4848ff" fill-opacity="0.8"/>
<circle cx="357.0" cy="133.2" r="0.85" fill="#4848ff" fill-opacity="0.8"/>
<circle cx="357.5" cy="136.0" r="0.85" fill="#4848ff" fill-opacity="0.8"/>
<circle cx="357.3" cy="143.5" r="0.85" fill="#4848ff" fill-opacity="0.8"/>
<circle cx="357.1" cy="145.8" r="0.85" fill="#4848ff" fill-opacity="0.8"/>
<circle cx="356.9" cy="148.1" r="0.85" fill="#4848ff" fill-opacity="0.8"/>
<circle cx="357.4" cy="150.4" r="0.85" fill="#4848ff" fill-opacity="0.8"/>
<circle cx="357.5" cy="152.7" r="0.85" fill="#4848ff" fill-opacity="0.8"/>
<circle cx="357.1" cy="162.0" r="0.85" fill="#4848ff" fill-opacity="0.8"/>
<circle cx="356.9" cy="164.2" r="0.85" fill="#4848ff" fill-opacity="0.8"/>
<circle cx="357.5" cy="166.4" r="0.85" fill="#4848ff" fill-opacity="0.8"/>
<circle cx="357.5" cy="168.6" r="0.85" fill="#4848ff" fill-opacity="0.8"/>
<circle cx="357.2" cy="183.0" r="0.85" fill="#4848ff" fill-opacity="0.8"/>
<circle cx="356.9" cy="190.0" r="0.85" fill="#4848ff" fill-opacity="0.8"/>
<circle cx="357.4" cy="195.3" r="0.85" fill="#4848ff" fill-opacity="0.8"/>
<circle cx="357.5" cy="209.0" r="0.85" fill="#4848ff" fill-opacity="0.8"/>
<circle cx="357.1" cy="220.5" r="0.85" fill="#4848ff" fill-opacity="0.8"/>
<circle cx="357.1" cy="224.4" r="0.85" fill="#4848ff" fill-opacity="0.8"/>
<circle cx="357.5" cy="240.7" r="0.85" fill="#4848ff" fill-opacity="0.8"/>
<circle cx="379.6" cy="86.5" r="0.85" fill="#4848ff" fill-opacity="0.8"/>
<circle cx="380.0" cy="97.5" r="0.85" fill="#4848ff" fill-opacity="0.8"/>
<circle cx="379.8" cy="108.9" r="0.85" fill="#4848ff" fill-opacity="0.8"/>
<circle cx="380.2" cy="122.0" r="0.85" fill="#4848ff" fill-opacity="0.8"/>
<circle cx="380.0" cy="131.0" r="0.85" fill="#4848ff" fill-opacity="0.8"/>
<circle cx="379.9" cy="133.5" r="0.85" fill="#4848ff" fill-opacity="0.8"/>
<circle cx="380.2" cy="136.0" r="0.85" fill="#4848ff" fill-opacity="0.8"/>
<circle cx="379.7" cy="138.5" r="0.85" fill="#4848ff" fill-opacity="0.8"/>
<circle cx="380.1" cy="141.0" r="0.85" fill="#4848ff" fill-opacity="0.8"/>
<circle cx="379.8" cy="143.5" r="0.85" fill="#4848ff" fill-opacity="0.8"/>
<circle cx="380.0" cy="149.6" r="0.85" fill="#4848ff" fill-opacity="0.8"/>
<circle cx="380.2" cy="152.2" r="0.85" fill="#4848ff" fill-opacity="0.8"/>
<circle cx="380.1" cy="154.9" r="0.85" fill="#4848ff" fill-opacity="0.8"/>
<circle cx="380.0" cy="157.5" r="0.85" fill="#4848ff" fill-opacity="0.8"/>
<circle cx="380.1" cy="160.1" r="0.85" fill="#4848ff" fill-opacity="0.8"/>
<circle cx="379.6" cy="162.7" r="0.85" fill="#4848ff" fill-opacity="0.8"/>
<circle cx="379.9" cy="165.4" r="0.85" fill="#4848ff" fill-opacity="0.8"/>
<circle cx="380.2" cy="168.0" r="0.85" fill="#4848ff" fill-opacity="0.8"/>
<circle cx="380.1" cy="171.6" r="0.85" fill="#4848ff" fill-opacity="0.8"/>
<circle cx="379.9" cy="173.9" r="0.85" fill="#4848ff" fill-opacity="0.8"/>
<circle cx="379.7" cy="176.2" r="0.85" fill="#4848ff" fill-opacity="0.8"/>
<circle cx="379.8" cy="178.5" r="0.85" fill="#4848ff" fill-opacity="0.8"/>
<circle cx="379.9" cy="180.8" r="0.85" fill="#4848ff" fill-opacity="0.8"/>
<circle cx="379.6" cy="192.0" r="0.85" fill="#4848ff" fill-opacity="0.8"/>
<circle cx="380.2" cy="194.3" r="0.85" fill="#4848ff" fill-opacity="0.8"/>
<circle cx="380.0" cy="196.7" r="0.85" fill="#4848ff" fill-opacity="0.8"/>
<circle cx="379.9" cy="199.0" r="0.85" fill="#4848ff" fill-opacity="0.8"/>
<circle cx="379.7" cy="218.0" r="0.85" fill="#4848ff" fill-opacity="0.8"/>
<circle cx="379.8" cy="227.4" r="0.85" fill="#4848ff" fill-opacity="0.8"/>
<circle cx="379.8" cy="232.0" r="0.85" fill="#4848ff" fill-opacity="0.8"/>
<circle cx="379.7" cy="278.0" r="0.85" fill="#4848ff" fill-opacity="0.8"/>
<circle cx="402.9" cy="68.6" r="0.85" fill="#4848ff" fill-opacity="0.8"/>
<circle cx="402.4" cy="114.6" r="0.85" fill="#4848ff" fill-opacity="0.8"/>
<circle cx="402.6" cy="116.0" r="0.85" fill="#4848ff" fill-opacity="0.8"/>
<circle cx="402.3" cy="139.0" r="0.85" fill="#4848ff" fill-opacity="0.8"/>
<circle cx="402.3" cy="141.5" r="0.85" fill="#4848ff" fill-opacity="0.8"/>
<circle cx="402.4" cy="144.1" r="0.85" fill="#4848ff" fill-opacity="0.8"/>
<circle cx="402.7" cy="146.6" r="0.85" fill="#4848ff" fill-opacity="0.8"/>
<circle cx="402.4" cy="154.0" r="0.85" fill="#4848ff" fill-opacity="0.8"/>
<circle cx="402.7" cy="156.4" r="0.85" fill="#4848ff" fill-opacity="0.8"/>
<circle cx="402.7" cy="158.8" r="0.85" fill="#4848ff" fill-opacity="0.8"/>
<circle cx="402.6" cy="161.1" r="0.85" fill="#4848ff" fill-opacity="0.8"/>
<circle cx="402.3" cy="163.5" r="0.85" fill="#4848ff" fill-opacity="0.8"/>
<circle cx="402.3" cy="165.9" r="0.85" fill="#4848ff" fill-opacity="0.8"/>
<circle cx="402.5" cy="168.3" r="0.85" fill="#4848ff" fill-opacity="0.8"/>
<circle cx="402.5" cy="170.7" r="0.85" fill="#4848ff" fill-opacity="0.8"/>
<circle cx="402.9" cy="173.0" r="0.85" fill="#4848ff" fill-opacity="0.8"/>
<circle cx="402.8" cy="175.4" r="0.85" fill="#4848ff" fill-opacity="0.8"/>
<circle cx="402.6" cy="177.8" r="0.85" fill="#4848ff" fill-opacity="0.8"/>
<circle cx="402.4" cy="182.0" r="0.85" fill="#4848ff" fill-opacity="0.8"/>
<circle cx="402.5" cy="184.0" r="0.85" fill="#4848ff" fill-opacity="0.8"/>
<circle cx="402.9" cy="194.6" r="0.85" fill="#4848ff" fill-opacity="0.8"/>
<circle cx="402.8" cy="196.0" r="0.85" fill="#4848ff" fill-opacity="0.8"/>
<circle cx="402.5" cy="203.0" r="0.85" fill="#4848ff" fill-opacity="0.8"/>
<circle cx="402.5" cy="205.5" r="0.85" fill="#4848ff" fill-opacity="0.8"/>
<circle cx="402.5" cy="208.0" r="0.85" fill="#4848ff" fill-opacity="0.8"/>
<circle cx="402.7" cy="224.4" r="0.85" fill="#4848ff" fill-opacity="0.8"/>
<circle cx="402.8" cy="238.4" r="0.85" fill="#4848ff" fill-opacity="0.8"/>
<circle cx="402.4" cy="246.0" r="0.85" fill="#4848ff" fill-opacity="0.8"/>
<circle cx="425.4" cy="126.7" r="0.85" fill="#4848ff" fill-opacity="0.8"/>
<circle cx="425.4" cy="129.2" r="0.85" fill="#4848ff" fill-opacity="0.8"/>
<circle cx="425.4" cy="131.6" r="0.85" fill="#4848ff" fill-opacity="0.8"/>
<circle cx="425.3" cy="134.1" r="0.85" fill="#4848ff" fill-opacity="0.8"/>
<circle cx="425.5" cy="136.5" r="0.85" fill="#4848ff" fill-opacity="0.8"/>
<circle cx="425.0" cy="139.0" r="0.85" fill="#4848ff" fill-opacity="0.8"/>
<circle cx="425.1" cy="155.8" r="0.85" fill="#4848ff" fill-opacity="0.8"/>
<circle cx="425.4" cy="157.3" r="0.85" fill="#4848ff" fill-opacity="0.8"/>
<circle cx="425.1" cy="168.0" r="0.85" fill="#4848ff" fill-opacity="0.8"/>
<circle cx="425.4" cy="171.3" r="0.85" fill="#4848ff" fill-opacity="0.8"/>
<circle cx="425.2" cy="174.7" r="0.85" fill="#4848ff" fill-opacity="0.8"/>
<circle cx="425.5" cy="178.0" r="0.85" fill="#4848ff" fill-opacity="0.8"/>
<circle cx="425.1" cy="181.4" r="0.85" fill="#4848ff" fill-opacity="0.8"/>
<circle cx="425.5" cy="187.0" r="0.85" fill="#4848ff" fill-opacity="0.8"/>
<circle cx="425.6" cy="189.8" r="0.85" fill="#4848ff" fill-opacity="0.8"/>
<circle cx="425.1" cy="192.6" r="0.85" fill="#4848ff" fill-opacity="0.8"/>
<circle cx="425.1" cy="195.4" r="0.85" fill="#4848ff" fill-opacity="0.8"/>
<circle cx="425.0" cy="198.2" r="0.85" fill="#4848ff" fill-opacity="0.8"/>
<circle cx="425.1" cy="201.0" r="0.85" fill="#4848ff" fill-opacity="0.8"/>
<circle cx="425.1" cy="206.0" r="0.85" fill="#4848ff" fill-opacity="0.8"/>
<circle cx="425.3" cy="212.0" r="0.85" fill="#4848ff" fill-opacity="0.8"/>
<circle cx="425.6" cy="217.0" r="0.85" fill="#4848ff" fill-opacity="0.8"/>
<circle cx="425.2" cy="238.0" r="0.85" fill="#4848ff" fill-opacity="0.8"/>
<circle cx="448.1" cy="100.0" r="0.85" fill="#4848ff" fill-opacity="0.8"/>
<circle cx="448.1" cy="103.5" r="0.85" fill="#4848ff" fill-opacity="0.8"/>
<circle cx="448.0" cy="107.0" r="0.85" fill="#4848ff" fill-opacity="0.8"/>
<circle cx="448.0" cy="113.9" r="0.85" fill="#4848ff" fill-opacity="0.8"/>
<circle cx="447.9" cy="122.9" r="0.85" fill="#4848ff" fill-opacity="0.8"/>
<circle cx="448.2" cy="134.3" r="0.85" fill="#4848ff" fill-opacity="0.8"/>
<circle cx="447.8" cy="137.1" r="0.85" fill="#4848ff" fill-opacity="0.8"/>
<circle cx="447.7" cy="139.9" r="0.85" fill="#4848ff" fill-opacity="0.8"/>
<circle cx="447.8" cy="142.7" r="0.85" fill="#4848ff" fill-opacity="0.8"/>
<circle cx="448.0" cy="145.5" r="0.85" fill="#4848ff" fill-opacity="0.8"/>
<circle cx="448.3" cy="148.3" r="0.85" fill="#4848ff" fill-opacity="0.8"/>
<circle cx="448.0" cy="151.2" r="0.85" fill="#4848ff" fill-opacity="0.8"/>
<circle cx="447.7" cy="154.0" r="0.85" fill="#4848ff" fill-opacity="0.8"/>
<circle cx="447.8" cy="156.8" r="0.85" fill="#4848ff" fill-opacity="0.8"/>
<circle cx="447.7" cy="159.6" r="0.85" fill="#4848ff" fill-opacity="0.8"/>
<circle cx="447.9" cy="162.4" r="0.85" fill="#4848ff" fill-opacity="0.8"/>
<circle cx="447.9" cy="165.2" r="0.85" fill="#4848ff" fill-opacity="0.8"/>
<circle cx="448.3" cy="168.0" r="0.85" fill="#4848ff" fill-opacity="0.8"/>
<circle cx="448.0" cy="168.0" r="0.85" fill="#4848ff" fill-opacity="0.8"/>
<circle cx="448.2" cy="170.5" r="0.85" fill="#4848ff" fill-opacity="0.8"/>
<circle cx="448.2" cy="173.0" r="0.85" fill="#4848ff" fill-opacity="0.8"/>
<circle cx="447.7" cy="175.5" r="0.85" fill="#4848ff" fill-opacity="0.8"/>
<circle cx="447.7" cy="178.0" r="0.85" fill="#4848ff" fill-opacity="0.8"/>
<circle cx="448.3" cy="186.6" r="0.85" fill="#4848ff" fill-opacity="0.8"/>
<circle cx="447.7" cy="196.0" r="0.85" fill="#4848ff" fill-opacity="0.8"/>
<circle cx="448.0" cy="232.0" r="0.85" fill="#4848ff" fill-opacity="0.8"/>
<circle cx="470.4" cy="110.0" r="0.85" fill="#4848ff" fill-opacity="0.8"/>
<circle cx="470.5" cy="122.0" r="0.85" fill="#4848ff" fill-opacity="0.8"/>
<circle cx="470.4" cy="124.5" r="0.85" fill="#4848ff" fill-opacity="0.8"/>
<circle cx="470.4" cy="126.9" r="0.85" fill="#4848ff" fill-opacity="0.8"/>
<circle cx="470.9" cy="129.4" r="0.85" fill="#4848ff" fill-opacity="0.8"/>
<circle cx="470.8" cy="131.8" r="0.85" fill="#4848ff" fill-opacity="0.8"/>
<circle cx="470.6" cy="134.3" r="0.85" fill="#4848ff" fill-opacity="0.8"/>
<circle cx="470.4" cy="136.8" r="0.85" fill="#4848ff" fill-opacity="0.8"/>
<circle cx="470.9" cy="139.2" r="0.85" fill="#4848ff" fill-opacity="0.8"/>
<circle cx="470.5" cy="141.7" r="0.85" fill="#4848ff" fill-opacity="0.8"/>
<circle cx="470.4" cy="144.1" r="0.85" fill="#4848ff" fill-opacity="0.8"/>
<circle cx="470.6" cy="146.6" r="0.85" fill="#4848ff" fill-opacity="0.8"/>
<circle cx="470.5" cy="155.8" r="0.85" fill="#4848ff" fill-opacity="0.8"/>
<circle cx="470.6" cy="166.3" r="0.85" fill="#4848ff" fill-opacity="0.8"/>
<circle cx="470.7" cy="173.8" r="0.85" fill="#4848ff" fill-opacity="0.8"/>
<circle cx="471.0" cy="181.4" r="0.85" fill="#4848ff" fill-opacity="0.8"/>
<circle cx="493.4" cy="103.0" r="0.85" fill="#4848ff" fill-opacity="0.8"/>
<circle cx="493.7" cy="106.0" r="0.85" fill="#4848ff" fill-opacity="0.8"/>
<circle cx="493.2" cy="108.0" r="0.85" fill="#4848ff" fill-opacity="0.8"/>
<circle cx="493.3" cy="110.8" r="0.85" fill="#4848ff" fill-opacity="0.8"/>
<circle cx="493.2" cy="115.4" r="0.85" fill="#4848ff" fill-opacity="0.8"/>
<circle cx="493.2" cy="118.0" r="0.85" fill="#4848ff" fill-opacity="0.8"/>
<circle cx="493.7" cy="120.6" r="0.85" fill="#4848ff" fill-opacity="0.8"/>
<circle cx="493.1" cy="126.7" r="0.85" fill="#4848ff" fill-opacity="0.8"/>
<circle cx="493.4" cy="129.3" r="0.85" fill="#4848ff" fill-opacity="0.8"/>
<circle cx="493.3" cy="132.0" r="0.85" fill="#4848ff" fill-opacity="0.8"/>
<circle cx="493.7" cy="134.6" r="0.85" fill="#4848ff" fill-opacity="0.8"/>
<circle cx="493.1" cy="137.3" r="0.85" fill="#4848ff" fill-opacity="0.8"/>
<circle cx="493.1" cy="139.9" r="0.85" fill="#4848ff" fill-opacity="0.8"/>
<circle cx="493.4" cy="142.6" r="0.85" fill="#4848ff" fill-opacity="0.8"/>
<circle cx="493.1" cy="145.2" r="0.85" fill="#4848ff" fill-opacity="0.8"/>
<circle cx="493.3" cy="147.9" r="0.85" fill="#4848ff" fill-opacity="0.8"/>
<circle cx="493.6" cy="150.5" r="0.85" fill="#4848ff" fill-opacity="0.8"/>
<circle cx="493.1" cy="153.2" r="0.85" fill="#4848ff" fill-opacity="0.8"/>
<circle cx="493.5" cy="155.8" r="0.85" fill="#4848ff" fill-opacity="0.8"/>
<circle cx="516.1" cy="114.6" r="0.85" fill="#4848ff" fill-opacity="0.8"/>
<circle cx="516.1" cy="117.0" r="0.85" fill="#4848ff" fill-opacity="0.8"/>
<circle cx="516.2" cy="116.0" r="0.85" fill="#4848ff" fill-opacity="0.8"/>
<circle cx="516.1" cy="118.5" r="0.85" fill="#4848ff" fill-opacity="0.8"/>
<circle cx="516.4" cy="121.1" r="0.85" fill="#4848ff" fill-opacity="0.8"/>
<circle cx="515.9" cy="123.6" r="0.85" fill="#4848ff" fill-opacity="0.8"/>
<circle cx="516.0" cy="126.1" r="0.85" fill="#4848ff" fill-opacity="0.8"/>
<circle cx="516.0" cy="128.7" r="0.85" fill="#4848ff" fill-opacity="0.8"/>
<circle cx="515.8" cy="131.2" r="0.85" fill="#4848ff" fill-opacity="0.8"/>
<circle cx="515.9" cy="133.7" r="0.85" fill="#4848ff" fill-opacity="0.8"/>
<circle cx="515.8" cy="136.3" r="0.85" fill="#4848ff" fill-opacity="0.8"/>
<circle cx="515.8" cy="138.8" r="0.85" fill="#4848ff" fill-opacity="0.8"/>
<circle cx="515.9" cy="141.3" r="0.85" fill="#4848ff" fill-opacity="0.8"/>
<circle cx="516.4" cy="143.9" r="0.85" fill="#4848ff" fill-opacity="0.8"/>
<circle cx="516.3" cy="146.4" r="0.85" fill="#4848ff" fill-opacity="0.8"/>
<circle cx="516.3" cy="148.9" r="0.85" fill="#4848ff" fill-opacity="0.8"/>
<circle cx="515.8" cy="151.5" r="0.85" fill="#4848ff" fill-opacity="0.8"/>
<circle cx="516.1" cy="154.0" r="0.85" fill="#4848ff" fill-opacity="0.8"/>
<circle cx="321.1" cy="106.5" r="1.1" fill="#c0303a" fill-opacity="0.55"/>
<circle cx="320.8" cy="116.0" r="1.1" fill="#c0303a" fill-opacity="0.55"/>
<circle cx="321.0" cy="118.0" r="1.1" fill="#c0303a" fill-opacity="0.55"/>
<circle cx="321.0" cy="119.9" r="1.1" fill="#c0303a" fill-opacity="0.55"/>
<circle cx="320.6" cy="121.9" r="1.1" fill="#c0303a" fill-opacity="0.55"/>
<circle cx="320.5" cy="123.9" r="1.1" fill="#c0303a" fill-opacity="0.55"/>
<circle cx="320.9" cy="125.8" r="1.1" fill="#c0303a" fill-opacity="0.55"/>
<circle cx="320.5" cy="127.8" r="1.1" fill="#c0303a" fill-opacity="0.55"/>
<circle cx="320.7" cy="129.8" r="1.1" fill="#c0303a" fill-opacity="0.55"/>
<circle cx="321.1" cy="131.7" r="1.1" fill="#c0303a" fill-opacity="0.55"/>
<circle cx="321.1" cy="133.7" r="1.1" fill="#c0303a" fill-opacity="0.55"/>
<circle cx="320.5" cy="135.6" r="1.1" fill="#c0303a" fill-opacity="0.55"/>
<circle cx="320.5" cy="137.6" r="1.1" fill="#c0303a" fill-opacity="0.55"/>
<circle cx="320.6" cy="139.6" r="1.1" fill="#c0303a" fill-opacity="0.55"/>
<circle cx="321.0" cy="141.5" r="1.1" fill="#c0303a" fill-opacity="0.55"/>
<circle cx="320.5" cy="143.5" r="1.1" fill="#c0303a" fill-opacity="0.55"/>
<circle cx="320.6" cy="121.0" r="1.1" fill="#c0303a" fill-opacity="0.55"/>
<circle cx="320.5" cy="122.5" r="1.1" fill="#c0303a" fill-opacity="0.55"/>
<circle cx="320.5" cy="124.0" r="1.1" fill="#c0303a" fill-opacity="0.55"/>
<circle cx="320.8" cy="125.5" r="1.1" fill="#c0303a" fill-opacity="0.55"/>
<circle cx="320.6" cy="127.0" r="1.1" fill="#c0303a" fill-opacity="0.55"/>
<circle cx="320.7" cy="128.5" r="1.1" fill="#c0303a" fill-opacity="0.55"/>
<circle cx="321.0" cy="130.0" r="1.1" fill="#c0303a" fill-opacity="0.55"/>
<circle cx="321.0" cy="131.5" r="1.1" fill="#c0303a" fill-opacity="0.55"/>
<circle cx="320.7" cy="133.0" r="1.1" fill="#c0303a" fill-opacity="0.55"/>
<circle cx="321.0" cy="134.5" r="1.1" fill="#c0303a" fill-opacity="0.55"/>
<circle cx="320.9" cy="136.0" r="1.1" fill="#c0303a" fill-opacity="0.55"/>
<circle cx="343.8" cy="110.8" r="1.1" fill="#c0303a" fill-opacity="0.55"/>
<circle cx="343.4" cy="113.1" r="1.1" fill="#c0303a" fill-opacity="0.55"/>
<circle cx="343.7" cy="117.7" r="1.1" fill="#c0303a" fill-opacity="0.55"/>
<circle cx="343.3" cy="123.6" r="1.1" fill="#c0303a" fill-opacity="0.55"/>
<circle cx="343.5" cy="125.6" r="1.1" fill="#c0303a" fill-opacity="0.55"/>
<circle cx="343.3" cy="127.5" r="1.1" fill="#c0303a" fill-opacity="0.55"/>
<circle cx="343.5" cy="129.5" r="1.1" fill="#c0303a" fill-opacity="0.55"/>
<circle cx="343.2" cy="131.4" r="1.1" fill="#c0303a" fill-opacity="0.55"/>
<circle cx="343.4" cy="133.4" r="1.1" fill="#c0303a" fill-opacity="0.55"/>
<circle cx="343.4" cy="135.3" r="1.1" fill="#c0303a" fill-opacity="0.55"/>
<circle cx="343.2" cy="137.3" r="1.1" fill="#c0303a" fill-opacity="0.55"/>
<circle cx="343.7" cy="139.3" r="1.1" fill="#c0303a" fill-opacity="0.55"/>
<circle cx="343.8" cy="141.2" r="1.1" fill="#c0303a" fill-opacity="0.55"/>
<circle cx="343.3" cy="143.2" r="1.1" fill="#c0303a" fill-opacity="0.55"/>
<circle cx="343.6" cy="145.1" r="1.1" fill="#c0303a" fill-opacity="0.55"/>
<circle cx="343.5" cy="147.1" r="1.1" fill="#c0303a" fill-opacity="0.55"/>
<circle cx="343.4" cy="149.0" r="1.1" fill="#c0303a" fill-opacity="0.55"/>
<circle cx="343.6" cy="151.0" r="1.1" fill="#c0303a" fill-opacity="0.55"/>
<circle cx="343.6" cy="127.0" r="1.1" fill="#c0303a" fill-opacity="0.55"/>
<circle cx="343.3" cy="128.5" r="1.1" fill="#c0303a" fill-opacity="0.55"/>
<circle cx="343.4" cy="130.0" r="1.1" fill="#c0303a" fill-opacity="0.55"/>
<circle cx="343.5" cy="131.5" r="1.1" fill="#c0303a" fill-opacity="0.55"/>
<circle cx="343.8" cy="133.0" r="1.1" fill="#c0303a" fill-opacity="0.55"/>
<circle cx="343.8" cy="134.5" r="1.1" fill="#c0303a" fill-opacity="0.55"/>
<circle cx="343.7" cy="136.0" r="1.1" fill="#c0303a" fill-opacity="0.55"/>
<circle cx="343.5" cy="137.5" r="1.1" fill="#c0303a" fill-opacity="0.55"/>
<circle cx="343.8" cy="139.0" r="1.1" fill="#c0303a" fill-opacity="0.55"/>
<circle cx="343.8" cy="140.5" r="1.1" fill="#c0303a" fill-opacity="0.55"/>
<circle cx="343.8" cy="142.0" r="1.1" fill="#c0303a" fill-opacity="0.55"/>
<circle cx="343.3" cy="162.6" r="1.1" fill="#c0303a" fill-opacity="0.55"/>
<circle cx="366.0" cy="30.4" r="1.1" fill="#c0303a" fill-opacity="0.55"/>
<circle cx="366.0" cy="40.3" r="1.1" fill="#c0303a" fill-opacity="0.55"/>
<circle cx="366.1" cy="44.9" r="1.1" fill="#c0303a" fill-opacity="0.55"/>
<circle cx="366.0" cy="74.6" r="1.1" fill="#c0303a" fill-opacity="0.55"/>
<circle cx="366.1" cy="81.5" r="1.1" fill="#c0303a" fill-opacity="0.55"/>
<circle cx="365.9" cy="89.9" r="1.1" fill="#c0303a" fill-opacity="0.55"/>
<circle cx="366.2" cy="105.5" r="1.1" fill="#c0303a" fill-opacity="0.55"/>
<circle cx="366.2" cy="108.5" r="1.1" fill="#c0303a" fill-opacity="0.55"/>
<circle cx="366.1" cy="110.9" r="1.1" fill="#c0303a" fill-opacity="0.55"/>
<circle cx="366.4" cy="113.2" r="1.1" fill="#c0303a" fill-opacity="0.55"/>
<circle cx="365.9" cy="115.6" r="1.1" fill="#c0303a" fill-opacity="0.55"/>
<circle cx="366.5" cy="117.9" r="1.1" fill="#c0303a" fill-opacity="0.55"/>
<circle cx="366.2" cy="120.3" r="1.1" fill="#c0303a" fill-opacity="0.55"/>
<circle cx="366.0" cy="122.6" r="1.1" fill="#c0303a" fill-opacity="0.55"/>
<circle cx="366.1" cy="125.0" r="1.1" fill="#c0303a" fill-opacity="0.55"/>
<circle cx="366.1" cy="134.0" r="1.1" fill="#c0303a" fill-opacity="0.55"/>
<circle cx="365.9" cy="137.0" r="1.1" fill="#c0303a" fill-opacity="0.55"/>
<circle cx="366.3" cy="143.0" r="1.1" fill="#c0303a" fill-opacity="0.55"/>
<circle cx="366.3" cy="151.0" r="1.1" fill="#c0303a" fill-opacity="0.55"/>
<circle cx="366.3" cy="162.0" r="1.1" fill="#c0303a" fill-opacity="0.55"/>
<circle cx="366.3" cy="165.0" r="1.1" fill="#c0303a" fill-opacity="0.55"/>
<circle cx="366.5" cy="168.0" r="1.1" fill="#c0303a" fill-opacity="0.55"/>
<circle cx="366.2" cy="194.6" r="1.1" fill="#c0303a" fill-opacity="0.55"/>
<circle cx="389.2" cy="90.9" r="1.1" fill="#c0303a" fill-opacity="0.55"/>
<circle cx="388.9" cy="97.8" r="1.1" fill="#c0303a" fill-opacity="0.55"/>
<circle cx="388.7" cy="102.9" r="1.1" fill="#c0303a" fill-opacity="0.55"/>
<circle cx="389.2" cy="107.0" r="1.1" fill="#c0303a" fill-opacity="0.55"/>
<circle cx="388.8" cy="110.0" r="1.1" fill="#c0303a" fill-opacity="0.55"/>
<circle cx="389.1" cy="122.0" r="1.1" fill="#c0303a" fill-opacity="0.55"/>
<circle cx="388.6" cy="124.5" r="1.1" fill="#c0303a" fill-opacity="0.55"/>
<circle cx="388.7" cy="127.0" r="1.1" fill="#c0303a" fill-opacity="0.55"/>
<circle cx="389.2" cy="129.5" r="1.1" fill="#c0303a" fill-opacity="0.55"/>
<circle cx="389.1" cy="132.0" r="1.1" fill="#c0303a" fill-opacity="0.55"/>
<circle cx="388.6" cy="134.5" r="1.1" fill="#c0303a" fill-opacity="0.55"/>
<circle cx="388.9" cy="137.0" r="1.1" fill="#c0303a" fill-opacity="0.55"/>
<circle cx="388.8" cy="139.5" r="1.1" fill="#c0303a" fill-opacity="0.55"/>
<circle cx="388.7" cy="142.0" r="1.1" fill="#c0303a" fill-opacity="0.55"/>
<circle cx="388.6" cy="152.7" r="1.1" fill="#c0303a" fill-opacity="0.55"/>
<circle cx="388.8" cy="155.1" r="1.1" fill="#c0303a" fill-opacity="0.55"/>
<circle cx="388.6" cy="157.6" r="1.1" fill="#c0303a" fill-opacity="0.55"/>
<circle cx="388.7" cy="160.0" r="1.1" fill="#c0303a" fill-opacity="0.55"/>
<circle cx="389.2" cy="173.0" r="1.1" fill="#c0303a" fill-opacity="0.55"/>
<circle cx="388.8" cy="183.0" r="1.1" fill="#c0303a" fill-opacity="0.55"/>
<circle cx="388.8" cy="185.0" r="1.1" fill="#c0303a" fill-opacity="0.55"/>
<circle cx="388.8" cy="187.0" r="1.1" fill="#c0303a" fill-opacity="0.55"/>
<circle cx="388.6" cy="192.0" r="1.1" fill="#c0303a" fill-opacity="0.55"/>
<circle cx="389.2" cy="196.0" r="1.1" fill="#c0303a" fill-opacity="0.55"/>
<circle cx="388.9" cy="210.0" r="1.1" fill="#c0303a" fill-opacity="0.55"/>
<circle cx="389.0" cy="214.0" r="1.1" fill="#c0303a" fill-opacity="0.55"/>
<circle cx="411.5" cy="71.8" r="1.1" fill="#c0303a" fill-opacity="0.55"/>
<circle cx="411.8" cy="76.4" r="1.1" fill="#c0303a" fill-opacity="0.55"/>
<circle cx="411.3" cy="86.3" r="1.1" fill="#c0303a" fill-opacity="0.55"/>
<circle cx="411.5" cy="95.5" r="1.1" fill="#c0303a" fill-opacity="0.55"/>
<circle cx="411.5" cy="113.0" r="1.1" fill="#c0303a" fill-opacity="0.55"/>
<circle cx="411.9" cy="115.0" r="1.1" fill="#c0303a" fill-opacity="0.55"/>
<circle cx="411.5" cy="117.0" r="1.1" fill="#c0303a" fill-opacity="0.55"/>
<circle cx="411.7" cy="123.6" r="1.1" fill="#c0303a" fill-opacity="0.55"/>
<circle cx="411.3" cy="125.0" r="1.1" fill="#c0303a" fill-opacity="0.55"/>
<circle cx="411.4" cy="131.0" r="1.1" fill="#c0303a" fill-opacity="0.55"/>
<circle cx="411.7" cy="133.7" r="1.1" fill="#c0303a" fill-opacity="0.55"/>
<circle cx="411.6" cy="136.3" r="1.1" fill="#c0303a" fill-opacity="0.55"/>
<circle cx="411.8" cy="139.0" r="1.1" fill="#c0303a" fill-opacity="0.55"/>
<circle cx="411.6" cy="141.6" r="1.1" fill="#c0303a" fill-opacity="0.55"/>
<circle cx="411.6" cy="144.3" r="1.1" fill="#c0303a" fill-opacity="0.55"/>
<circle cx="411.4" cy="146.9" r="1.1" fill="#c0303a" fill-opacity="0.55"/>
<circle cx="411.4" cy="149.6" r="1.1" fill="#c0303a" fill-opacity="0.55"/>
<circle cx="411.3" cy="162.0" r="1.1" fill="#c0303a" fill-opacity="0.55"/>
<circle cx="411.4" cy="167.0" r="1.1" fill="#c0303a" fill-opacity="0.55"/>
<circle cx="411.6" cy="175.5" r="1.1" fill="#c0303a" fill-opacity="0.55"/>
<circle cx="411.7" cy="177.8" r="1.1" fill="#c0303a" fill-opacity="0.55"/>
<circle cx="411.8" cy="185.4" r="1.1" fill="#c0303a" fill-opacity="0.55"/>
<circle cx="411.7" cy="190.0" r="1.1" fill="#c0303a" fill-opacity="0.55"/>
<circle cx="411.8" cy="193.8" r="1.1" fill="#c0303a" fill-opacity="0.55"/>
<circle cx="411.8" cy="210.6" r="1.1" fill="#c0303a" fill-opacity="0.55"/>
<circle cx="411.3" cy="212.6" r="1.1" fill="#c0303a" fill-opacity="0.55"/>
<circle cx="411.9" cy="214.6" r="1.1" fill="#c0303a" fill-opacity="0.55"/>
<circle cx="411.6" cy="225.8" r="1.1" fill="#c0303a" fill-opacity="0.55"/>
<circle cx="434.1" cy="130.5" r="1.1" fill="#c0303a" fill-opacity="0.55"/>
<circle cx="434.3" cy="132.8" r="1.1" fill="#c0303a" fill-opacity="0.55"/>
<circle cx="434.4" cy="135.1" r="1.1" fill="#c0303a" fill-opacity="0.55"/>
<circle cx="434.1" cy="137.4" r="1.1" fill="#c0303a" fill-opacity="0.55"/>
<circle cx="434.6" cy="146.6" r="1.1" fill="#c0303a" fill-opacity="0.55"/>
<circle cx="434.1" cy="148.6" r="1.1" fill="#c0303a" fill-opacity="0.55"/>
<circle cx="434.1" cy="150.7" r="1.1" fill="#c0303a" fill-opacity="0.55"/>
<circle cx="434.3" cy="152.7" r="1.1" fill="#c0303a" fill-opacity="0.55"/>
<circle cx="434.2" cy="161.9" r="1.1" fill="#c0303a" fill-opacity="0.55"/>
<circle cx="434.5" cy="164.0" r="1.1" fill="#c0303a" fill-opacity="0.55"/>
<circle cx="434.6" cy="167.1" r="1.1" fill="#c0303a" fill-opacity="0.55"/>
<circle cx="434.6" cy="170.2" r="1.1" fill="#c0303a" fill-opacity="0.55"/>
<circle cx="434.4" cy="173.3" r="1.1" fill="#c0303a" fill-opacity="0.55"/>
<circle cx="434.3" cy="176.4" r="1.1" fill="#c0303a" fill-opacity="0.55"/>
<circle cx="434.6" cy="179.6" r="1.1" fill="#c0303a" fill-opacity="0.55"/>
<circle cx="434.3" cy="182.7" r="1.1" fill="#c0303a" fill-opacity="0.55"/>
<circle cx="434.0" cy="185.8" r="1.1" fill="#c0303a" fill-opacity="0.55"/>
<circle cx="434.1" cy="188.9" r="1.1" fill="#c0303a" fill-opacity="0.55"/>
<circle cx="434.6" cy="192.0" r="1.1" fill="#c0303a" fill-opacity="0.55"/>
<circle cx="434.0" cy="217.5" r="1.1" fill="#c0303a" fill-opacity="0.55"/>
<circle cx="434.4" cy="220.0" r="1.1" fill="#c0303a" fill-opacity="0.55"/>
<circle cx="434.2" cy="222.0" r="1.1" fill="#c0303a" fill-opacity="0.55"/>
<circle cx="434.1" cy="239.6" r="1.1" fill="#c0303a" fill-opacity="0.55"/>
<circle cx="457.3" cy="90.2" r="1.1" fill="#c0303a" fill-opacity="0.55"/>
<circle cx="457.2" cy="109.7" r="1.1" fill="#c0303a" fill-opacity="0.55"/>
<circle cx="457.3" cy="119.2" r="1.1" fill="#c0303a" fill-opacity="0.55"/>
<circle cx="456.7" cy="120.6" r="1.1" fill="#c0303a" fill-opacity="0.55"/>
<circle cx="456.7" cy="129.8" r="1.1" fill="#c0303a" fill-opacity="0.55"/>
<circle cx="456.9" cy="139.0" r="1.1" fill="#c0303a" fill-opacity="0.55"/>
<circle cx="457.2" cy="141.5" r="1.1" fill="#c0303a" fill-opacity="0.55"/>
<circle cx="457.1" cy="144.1" r="1.1" fill="#c0303a" fill-opacity="0.55"/>
<circle cx="457.3" cy="146.6" r="1.1" fill="#c0303a" fill-opacity="0.55"/>
<circle cx="457.3" cy="155.8" r="1.1" fill="#c0303a" fill-opacity="0.55"/>
<circle cx="457.0" cy="158.3" r="1.1" fill="#c0303a" fill-opacity="0.55"/>
<circle cx="457.0" cy="160.7" r="1.1" fill="#c0303a" fill-opacity="0.55"/>
<circle cx="456.7" cy="163.2" r="1.1" fill="#c0303a" fill-opacity="0.55"/>
<circle cx="457.2" cy="165.7" r="1.1" fill="#c0303a" fill-opacity="0.55"/>
<circle cx="456.7" cy="168.1" r="1.1" fill="#c0303a" fill-opacity="0.55"/>
<circle cx="456.9" cy="170.6" r="1.1" fill="#c0303a" fill-opacity="0.55"/>
<circle cx="457.0" cy="173.1" r="1.1" fill="#c0303a" fill-opacity="0.55"/>
<circle cx="457.1" cy="175.5" r="1.1" fill="#c0303a" fill-opacity="0.55"/>
<circle cx="456.8" cy="178.0" r="1.1" fill="#c0303a" fill-opacity="0.55"/>
<circle cx="456.9" cy="193.0" r="1.1" fill="#c0303a" fill-opacity="0.55"/>
<circle cx="456.8" cy="195.4" r="1.1" fill="#c0303a" fill-opacity="0.55"/>
<circle cx="480.0" cy="110.8" r="1.1" fill="#c0303a" fill-opacity="0.55"/>
<circle cx="479.6" cy="120.6" r="1.1" fill="#c0303a" fill-opacity="0.55"/>
<circle cx="479.5" cy="122.8" r="1.1" fill="#c0303a" fill-opacity="0.55"/>
<circle cx="480.0" cy="125.0" r="1.1" fill="#c0303a" fill-opacity="0.55"/>
<circle cx="479.9" cy="134.3" r="1.1" fill="#c0303a" fill-opacity="0.55"/>
<circle cx="479.8" cy="137.4" r="1.1" fill="#c0303a" fill-opacity="0.55"/>
<circle cx="480.0" cy="146.6" r="1.1" fill="#c0303a" fill-opacity="0.55"/>
<circle cx="479.8" cy="148.6" r="1.1" fill="#c0303a" fill-opacity="0.55"/>
<circle cx="479.4" cy="150.7" r="1.1" fill="#c0303a" fill-opacity="0.55"/>
<circle cx="479.9" cy="152.7" r="1.1" fill="#c0303a" fill-opacity="0.55"/>
<circle cx="479.8" cy="157.3" r="1.1" fill="#c0303a" fill-opacity="0.55"/>
<circle cx="480.0" cy="159.9" r="1.1" fill="#c0303a" fill-opacity="0.55"/>
<circle cx="479.5" cy="162.5" r="1.1" fill="#c0303a" fill-opacity="0.55"/>
<circle cx="480.0" cy="165.1" r="1.1" fill="#c0303a" fill-opacity="0.55"/>
<circle cx="479.9" cy="167.8" r="1.1" fill="#c0303a" fill-opacity="0.55"/>
<circle cx="479.6" cy="170.4" r="1.1" fill="#c0303a" fill-opacity="0.55"/>
<circle cx="479.7" cy="173.0" r="1.1" fill="#c0303a" fill-opacity="0.55"/>
<circle cx="479.4" cy="175.6" r="1.1" fill="#c0303a" fill-opacity="0.55"/>
<circle cx="479.6" cy="186.0" r="1.1" fill="#c0303a" fill-opacity="0.55"/>
<circle cx="479.9" cy="199.0" r="1.1" fill="#c0303a" fill-opacity="0.55"/>
<circle cx="479.6" cy="218.0" r="1.1" fill="#c0303a" fill-opacity="0.55"/>
<circle cx="502.3" cy="94.3" r="1.1" fill="#c0303a" fill-opacity="0.55"/>
<circle cx="502.5" cy="118.8" r="1.1" fill="#c0303a" fill-opacity="0.55"/>
<circle cx="502.2" cy="119.0" r="1.1" fill="#c0303a" fill-opacity="0.55"/>
<circle cx="502.6" cy="125.0" r="1.1" fill="#c0303a" fill-opacity="0.55"/>
<circle cx="502.5" cy="127.8" r="1.1" fill="#c0303a" fill-opacity="0.55"/>
<circle cx="502.1" cy="130.5" r="1.1" fill="#c0303a" fill-opacity="0.55"/>
<circle cx="502.6" cy="133.2" r="1.1" fill="#c0303a" fill-opacity="0.55"/>
<circle cx="502.3" cy="136.0" r="1.1" fill="#c0303a" fill-opacity="0.55"/>
<circle cx="502.1" cy="145.0" r="1.1" fill="#c0303a" fill-opacity="0.55"/>
<circle cx="502.5" cy="147.4" r="1.1" fill="#c0303a" fill-opacity="0.55"/>
<circle cx="502.2" cy="149.9" r="1.1" fill="#c0303a" fill-opacity="0.55"/>
<circle cx="502.3" cy="152.3" r="1.1" fill="#c0303a" fill-opacity="0.55"/>
<circle cx="502.3" cy="154.7" r="1.1" fill="#c0303a" fill-opacity="0.55"/>
<circle cx="502.5" cy="157.1" r="1.1" fill="#c0303a" fill-opacity="0.55"/>
<circle cx="502.3" cy="159.6" r="1.1" fill="#c0303a" fill-opacity="0.55"/>
<circle cx="502.1" cy="162.0" r="1.1" fill="#c0303a" fill-opacity="0.55"/>
<circle cx="502.5" cy="164.0" r="1.1" fill="#c0303a" fill-opacity="0.55"/>
<circle cx="502.2" cy="171.0" r="1.1" fill="#c0303a" fill-opacity="0.55"/>
<circle cx="502.4" cy="174.5" r="1.1" fill="#c0303a" fill-opacity="0.55"/>
<circle cx="502.5" cy="178.0" r="1.1" fill="#c0303a" fill-opacity="0.55"/>
<circle cx="502.1" cy="189.0" r="1.1" fill="#c0303a" fill-opacity="0.55"/>
<circle cx="524.9" cy="112.8" r="1.1" fill="#c0303a" fill-opacity="0.55"/>
<circle cx="525.2" cy="119.2" r="1.1" fill="#c0303a" fill-opacity="0.55"/>
<circle cx="525.0" cy="119.0" r="1.1" fill="#c0303a" fill-opacity="0.55"/>
<circle cx="525.0" cy="121.5" r="1.1" fill="#c0303a" fill-opacity="0.55"/>
<circle cx="524.8" cy="124.1" r="1.1" fill="#c0303a" fill-opacity="0.55"/>
<circle cx="525.3" cy="126.7" r="1.1" fill="#c0303a" fill-opacity="0.55"/>
<circle cx="525.4" cy="129.2" r="1.1" fill="#c0303a" fill-opacity="0.55"/>
<circle cx="525.0" cy="131.8" r="1.1" fill="#c0303a" fill-opacity="0.55"/>
<circle cx="525.3" cy="134.3" r="1.1" fill="#c0303a" fill-opacity="0.55"/>
<circle cx="525.4" cy="136.8" r="1.1" fill="#c0303a" fill-opacity="0.55"/>
<circle cx="525.3" cy="139.4" r="1.1" fill="#c0303a" fill-opacity="0.55"/>
<circle cx="525.1" cy="141.9" r="1.1" fill="#c0303a" fill-opacity="0.55"/>
<circle cx="524.8" cy="144.5" r="1.1" fill="#c0303a" fill-opacity="0.55"/>
<circle cx="525.3" cy="147.0" r="1.1" fill="#c0303a" fill-opacity="0.55"/>
<circle cx="525.0" cy="149.6" r="1.1" fill="#c0303a" fill-opacity="0.55"/>
<circle cx="524.8" cy="163.4" r="1.1" fill="#c0303a" fill-opacity="0.55"/>
<circle cx="524.9" cy="164.0" r="1.1" fill="#c0303a" fill-opacity="0.55"/>
<line x1="300.9" y1="155.5" x2="532.0999999999999" y2="155.5" stroke="#000" stroke-width="1.5" stroke-dasharray="1.5 2.9" stroke-dashoffset="0.9"/>
<polyline points="316.3,130.5 339.0,131.0 361.7,120.1 384.4,158.8 407.1,144.6 429.8,174.0 452.5,157.2 475.2,162.0 497.9,145.0 520.6,140.0" fill="none" stroke="#b0121b" stroke-width="1"/>
<polyline points="316.3,132.4 339.0,133.9 361.7,160.8 384.4,168.8 407.1,172.8 429.8,174.8 452.5,152.2 475.2,139.4 497.9,131.3 520.6,136.5" fill="none" stroke="#0000ff" stroke-width="1"/>
<path d="M316.3 127.1V134.0" stroke="#b0121b" stroke-width="1.7" fill="none"/>
<path d="M313.4 127.1H319.2M313.4 134.0H319.2" stroke="#b0121b" stroke-width="1.5" fill="none"/>
<path d="M339.0 124.8V138.8" stroke="#b0121b" stroke-width="1.7" fill="none"/>
<path d="M336.1 124.8H341.9M336.1 138.8H341.9" stroke="#b0121b" stroke-width="1.5" fill="none"/>
<path d="M361.7 108.7V136.8" stroke="#b0121b" stroke-width="1.7" fill="none"/>
<path d="M358.8 108.7H364.6M358.8 136.8H364.6" stroke="#b0121b" stroke-width="1.5" fill="none"/>
<path d="M384.4 126.5V182.8" stroke="#b0121b" stroke-width="1.7" fill="none"/>
<path d="M381.5 126.5H387.3M381.5 182.8H387.3" stroke="#b0121b" stroke-width="1.5" fill="none"/>
<path d="M407.1 129.5V166.8" stroke="#b0121b" stroke-width="1.7" fill="none"/>
<path d="M404.2 129.5H410.0M404.2 166.8H410.0" stroke="#b0121b" stroke-width="1.5" fill="none"/>
<path d="M429.8 162.9V190.8" stroke="#b0121b" stroke-width="1.7" fill="none"/>
<path d="M426.9 162.9H432.7M426.9 190.8H432.7" stroke="#b0121b" stroke-width="1.5" fill="none"/>
<path d="M452.5 154.0V161.0" stroke="#b0121b" stroke-width="1.7" fill="none"/>
<path d="M449.6 154.0H455.4M449.6 161.0H455.4" stroke="#b0121b" stroke-width="1.5" fill="none"/>
<path d="M475.2 146.7V167.0" stroke="#b0121b" stroke-width="1.7" fill="none"/>
<path d="M472.3 146.7H478.1M472.3 167.0H478.1" stroke="#b0121b" stroke-width="1.5" fill="none"/>
<path d="M497.9 138.0V156.5" stroke="#b0121b" stroke-width="1.7" fill="none"/>
<path d="M495.0 138.0H500.8M495.0 156.5H500.8" stroke="#b0121b" stroke-width="1.5" fill="none"/>
<path d="M520.6 131.3V146.3" stroke="#b0121b" stroke-width="1.7" fill="none"/>
<path d="M517.7 131.3H523.5M517.7 146.3H523.5" stroke="#b0121b" stroke-width="1.5" fill="none"/>
<path d="M339.0 130.5V137.3" stroke="#0000ff" stroke-width="1.9" fill="none"/>
<path d="M336.1 130.5H341.9M336.1 137.3H341.9" stroke="#0000ff" stroke-width="1.9" fill="none"/>
<path d="M361.7 149.3V183.1" stroke="#0000ff" stroke-width="1.9" fill="none"/>
<path d="M358.8 149.3H364.6M358.8 183.1H364.6" stroke="#0000ff" stroke-width="1.9" fill="none"/>
<path d="M384.4 144.0V179.1" stroke="#0000ff" stroke-width="1.9" fill="none"/>
<path d="M381.5 144.0H387.3M381.5 179.1H387.3" stroke="#0000ff" stroke-width="1.9" fill="none"/>
<path d="M407.1 159.2V189.5" stroke="#0000ff" stroke-width="1.9" fill="none"/>
<path d="M404.2 159.2H410.0M404.2 189.5H410.0" stroke="#0000ff" stroke-width="1.9" fill="none"/>
<path d="M429.8 166.4V188.7" stroke="#0000ff" stroke-width="1.9" fill="none"/>
<path d="M426.9 166.4H432.7M426.9 188.7H432.7" stroke="#0000ff" stroke-width="1.9" fill="none"/>
<path d="M452.5 140.0V167.5" stroke="#0000ff" stroke-width="1.9" fill="none"/>
<path d="M449.6 140.0H455.4M449.6 167.5H455.4" stroke="#0000ff" stroke-width="1.9" fill="none"/>
<path d="M475.2 133.7V148.6" stroke="#0000ff" stroke-width="1.9" fill="none"/>
<path d="M472.3 133.7H478.1M472.3 148.6H478.1" stroke="#0000ff" stroke-width="1.9" fill="none"/>
<path d="M497.9 123.5V139.2" stroke="#0000ff" stroke-width="1.9" fill="none"/>
<path d="M495.0 123.5H500.8M495.0 139.2H500.8" stroke="#0000ff" stroke-width="1.9" fill="none"/>
<path d="M520.6 129.8V142.3" stroke="#0000ff" stroke-width="1.9" fill="none"/>
<path d="M517.7 129.8H523.5M517.7 142.3H523.5" stroke="#0000ff" stroke-width="1.9" fill="none"/>
<path d="M316.3 127.5L319.3 130.5L316.3 133.5L313.3 130.5Z" fill="#fff" stroke="#b0121b" stroke-width="1.5"/>
<path d="M339.0 128.0L342.0 131.0L339.0 134.0L336.0 131.0Z" fill="#fff" stroke="#b0121b" stroke-width="1.5"/>
<path d="M361.7 117.1L364.7 120.1L361.7 123.1L358.7 120.1Z" fill="#fff" stroke="#b0121b" stroke-width="1.5"/>
<path d="M384.4 155.8L387.4 158.8L384.4 161.8L381.4 158.8Z" fill="#fff" stroke="#b0121b" stroke-width="1.5"/>
<path d="M407.1 141.6L410.1 144.6L407.1 147.6L404.1 144.6Z" fill="#fff" stroke="#b0121b" stroke-width="1.5"/>
<path d="M429.8 171.0L432.8 174.0L429.8 177.0L426.8 174.0Z" fill="#fff" stroke="#b0121b" stroke-width="1.5"/>
<path d="M452.5 154.2L455.5 157.2L452.5 160.2L449.5 157.2Z" fill="#fff" stroke="#b0121b" stroke-width="1.5"/>
<path d="M475.2 159.0L478.2 162.0L475.2 165.0L472.2 162.0Z" fill="#fff" stroke="#b0121b" stroke-width="1.5"/>
<path d="M497.9 142.0L500.9 145.0L497.9 148.0L494.9 145.0Z" fill="#fff" stroke="#b0121b" stroke-width="1.5"/>
<path d="M520.6 137.0L523.6 140.0L520.6 143.0L517.6 140.0Z" fill="#fff" stroke="#b0121b" stroke-width="1.5"/>
<circle cx="316.3" cy="132.4" r="3.1" fill="#0000ff"/>
<circle cx="339.0" cy="133.9" r="3.1" fill="#0000ff"/>
<circle cx="361.7" cy="160.8" r="3.1" fill="#0000ff"/>
<circle cx="384.4" cy="168.8" r="3.1" fill="#0000ff"/>
<circle cx="407.1" cy="172.8" r="3.1" fill="#0000ff"/>
<circle cx="429.8" cy="174.8" r="3.1" fill="#0000ff"/>
<circle cx="452.5" cy="152.2" r="3.1" fill="#0000ff"/>
<circle cx="475.2" cy="139.4" r="3.1" fill="#0000ff"/>
<circle cx="497.9" cy="131.3" r="3.1" fill="#0000ff"/>
<circle cx="520.6" cy="136.5" r="3.1" fill="#0000ff"/>
<path d="M300.9 25.3V285.3H532.0999999999999" fill="none" stroke="#000" stroke-width="1.6"/>
<path d="M298.3 279.70H300.9 M298.3 274.30H300.9 M298.3 268.90H300.9 M296.6 263.50H300.9 M298.3 258.10H300.9 M298.3 252.70H300.9 M298.3 247.30H300.9 M298.3 241.90H300.9 M296.6 236.50H300.9 M298.3 231.10H300.9 M298.3 225.70H300.9 M298.3 220.30H300.9 M298.3 214.90H300.9 M296.6 209.50H300.9 M298.3 204.10H300.9 M298.3 198.70H300.9 M298.3 193.30H300.9 M298.3 187.90H300.9 M296.6 182.50H300.9 M298.3 177.10H300.9 M298.3 171.70H300.9 M298.3 166.30H300.9 M298.3 160.90H300.9 M296.6 155.50H300.9 M298.3 150.10H300.9 M298.3 144.70H300.9 M298.3 139.30H300.9 M298.3 133.90H300.9 M296.6 128.50H300.9 M298.3 123.10H300.9 M298.3 117.70H300.9 M298.3 112.30H300.9 M298.3 106.90H300.9 M296.6 101.50H300.9 M298.3 96.10H300.9 M298.3 90.70H300.9 M298.3 85.30H300.9 M298.3 79.90H300.9 M296.6 74.50H300.9 M298.3 69.10H300.9 M298.3 63.70H300.9 M298.3 58.30H300.9 M298.3 52.90H300.9 M296.6 47.50H300.9 M298.3 42.10H300.9 M298.3 36.70H300.9 M298.3 31.30H300.9 M298.3 25.90H300.9" stroke="#000" stroke-width="1.3"/>
<path d="M316.3 285.3V289.6 M339.0 285.3V289.6 M361.7 285.3V289.6 M384.4 285.3V289.6 M407.1 285.3V289.6 M429.8 285.3V289.6 M452.5 285.3V289.6 M475.2 285.3V289.6 M497.9 285.3V289.6 M520.6 285.3V289.6" stroke="#000" stroke-width="1.3"/>
<text x="320.1" y="299.8" transform="rotate(-45 320.1 299.8)" text-anchor="end" class="xl">Base</text>
<text x="342.8" y="299.8" transform="rotate(-45 342.8 299.8)" text-anchor="end" class="xl">Pre</text>
<text x="365.5" y="299.8" transform="rotate(-45 365.5 299.8)" text-anchor="end" class="xl">Post1</text>
<text x="388.2" y="299.8" transform="rotate(-45 388.2 299.8)" text-anchor="end" class="xl">Post2</text>
<text x="410.9" y="299.8" transform="rotate(-45 410.9 299.8)" text-anchor="end" class="xl">Post3</text>
<text x="433.6" y="299.8" transform="rotate(-45 433.6 299.8)" text-anchor="end" class="xl">Post4</text>
<text x="456.3" y="299.8" transform="rotate(-45 456.3 299.8)" text-anchor="end" class="xl">Post5</text>
<text x="479.0" y="299.8" transform="rotate(-45 479.0 299.8)" text-anchor="end" class="xl">Post6</text>
<text x="501.7" y="299.8" transform="rotate(-45 501.7 299.8)" text-anchor="end" class="xl">Post7</text>
<text x="524.4" y="299.8" transform="rotate(-45 524.4 299.8)" text-anchor="end" class="xl">Post8</text>
<text x="416.5" y="340" text-anchor="middle" class="st">Step</text>
<circle cx="562.8" cy="111.0" r="0.85" fill="#4848ff" fill-opacity="0.8"/>
<circle cx="562.9" cy="118.6" r="0.85" fill="#4848ff" fill-opacity="0.8"/>
<circle cx="563.2" cy="116.0" r="0.85" fill="#4848ff" fill-opacity="0.8"/>
<circle cx="562.8" cy="118.5" r="0.85" fill="#4848ff" fill-opacity="0.8"/>
<circle cx="563.4" cy="120.9" r="0.85" fill="#4848ff" fill-opacity="0.8"/>
<circle cx="562.9" cy="123.3" r="0.85" fill="#4848ff" fill-opacity="0.8"/>
<circle cx="562.8" cy="125.8" r="0.85" fill="#4848ff" fill-opacity="0.8"/>
<circle cx="563.1" cy="128.2" r="0.85" fill="#4848ff" fill-opacity="0.8"/>
<circle cx="562.9" cy="130.7" r="0.85" fill="#4848ff" fill-opacity="0.8"/>
<circle cx="562.8" cy="133.2" r="0.85" fill="#4848ff" fill-opacity="0.8"/>
<circle cx="562.9" cy="135.6" r="0.85" fill="#4848ff" fill-opacity="0.8"/>
<circle cx="563.1" cy="138.1" r="0.85" fill="#4848ff" fill-opacity="0.8"/>
<circle cx="562.9" cy="140.5" r="0.85" fill="#4848ff" fill-opacity="0.8"/>
<circle cx="585.8" cy="101.6" r="0.85" fill="#4848ff" fill-opacity="0.8"/>
<circle cx="585.9" cy="109.0" r="0.85" fill="#4848ff" fill-opacity="0.8"/>
<circle cx="586.0" cy="114.0" r="0.85" fill="#4848ff" fill-opacity="0.8"/>
<circle cx="585.6" cy="117.4" r="0.85" fill="#4848ff" fill-opacity="0.8"/>
<circle cx="585.6" cy="116.0" r="0.85" fill="#4848ff" fill-opacity="0.8"/>
<circle cx="585.9" cy="118.4" r="0.85" fill="#4848ff" fill-opacity="0.8"/>
<circle cx="585.7" cy="120.9" r="0.85" fill="#4848ff" fill-opacity="0.8"/>
<circle cx="585.9" cy="123.3" r="0.85" fill="#4848ff" fill-opacity="0.8"/>
<circle cx="586.0" cy="125.8" r="0.85" fill="#4848ff" fill-opacity="0.8"/>
<circle cx="585.5" cy="128.2" r="0.85" fill="#4848ff" fill-opacity="0.8"/>
<circle cx="585.7" cy="130.7" r="0.85" fill="#4848ff" fill-opacity="0.8"/>
<circle cx="585.6" cy="133.1" r="0.85" fill="#4848ff" fill-opacity="0.8"/>
<circle cx="585.7" cy="135.6" r="0.85" fill="#4848ff" fill-opacity="0.8"/>
<circle cx="586.1" cy="138.0" r="0.85" fill="#4848ff" fill-opacity="0.8"/>
<circle cx="585.6" cy="140.5" r="0.85" fill="#4848ff" fill-opacity="0.8"/>
<circle cx="585.7" cy="142.9" r="0.85" fill="#4848ff" fill-opacity="0.8"/>
<circle cx="585.6" cy="145.4" r="0.85" fill="#4848ff" fill-opacity="0.8"/>
<circle cx="585.6" cy="147.8" r="0.85" fill="#4848ff" fill-opacity="0.8"/>
<circle cx="585.5" cy="150.3" r="0.85" fill="#4848ff" fill-opacity="0.8"/>
<circle cx="585.5" cy="152.7" r="0.85" fill="#4848ff" fill-opacity="0.8"/>
<circle cx="608.5" cy="127.5" r="0.85" fill="#4848ff" fill-opacity="0.8"/>
<circle cx="608.4" cy="144.3" r="0.85" fill="#4848ff" fill-opacity="0.8"/>
<circle cx="608.4" cy="156.5" r="0.85" fill="#4848ff" fill-opacity="0.8"/>
<circle cx="608.5" cy="180.0" r="0.85" fill="#4848ff" fill-opacity="0.8"/>
<circle cx="608.5" cy="182.4" r="0.85" fill="#4848ff" fill-opacity="0.8"/>
<circle cx="608.3" cy="184.7" r="0.85" fill="#4848ff" fill-opacity="0.8"/>
<circle cx="608.2" cy="187.1" r="0.85" fill="#4848ff" fill-opacity="0.8"/>
<circle cx="608.3" cy="189.5" r="0.85" fill="#4848ff" fill-opacity="0.8"/>
<circle cx="608.8" cy="191.8" r="0.85" fill="#4848ff" fill-opacity="0.8"/>
<circle cx="608.8" cy="194.2" r="0.85" fill="#4848ff" fill-opacity="0.8"/>
<circle cx="608.6" cy="196.5" r="0.85" fill="#4848ff" fill-opacity="0.8"/>
<circle cx="608.3" cy="198.9" r="0.85" fill="#4848ff" fill-opacity="0.8"/>
<circle cx="608.5" cy="201.3" r="0.85" fill="#4848ff" fill-opacity="0.8"/>
<circle cx="608.7" cy="203.6" r="0.85" fill="#4848ff" fill-opacity="0.8"/>
<circle cx="608.7" cy="206.0" r="0.85" fill="#4848ff" fill-opacity="0.8"/>
<circle cx="608.2" cy="215.6" r="0.85" fill="#4848ff" fill-opacity="0.8"/>
<circle cx="608.8" cy="221.0" r="0.85" fill="#4848ff" fill-opacity="0.8"/>
<circle cx="608.7" cy="233.0" r="0.85" fill="#4848ff" fill-opacity="0.8"/>
<circle cx="631.0" cy="107.0" r="0.85" fill="#4848ff" fill-opacity="0.8"/>
<circle cx="630.9" cy="120.6" r="0.85" fill="#4848ff" fill-opacity="0.8"/>
<circle cx="631.0" cy="123.0" r="0.85" fill="#4848ff" fill-opacity="0.8"/>
<circle cx="631.4" cy="125.5" r="0.85" fill="#4848ff" fill-opacity="0.8"/>
<circle cx="631.0" cy="127.9" r="0.85" fill="#4848ff" fill-opacity="0.8"/>
<circle cx="631.4" cy="130.4" r="0.85" fill="#4848ff" fill-opacity="0.8"/>
<circle cx="631.1" cy="132.8" r="0.85" fill="#4848ff" fill-opacity="0.8"/>
<circle cx="631.2" cy="151.0" r="0.85" fill="#4848ff" fill-opacity="0.8"/>
<circle cx="631.3" cy="153.4" r="0.85" fill="#4848ff" fill-opacity="0.8"/>
<circle cx="630.9" cy="155.9" r="0.85" fill="#4848ff" fill-opacity="0.8"/>
<circle cx="631.5" cy="158.3" r="0.85" fill="#4848ff" fill-opacity="0.8"/>
<circle cx="631.3" cy="160.7" r="0.85" fill="#4848ff" fill-opacity="0.8"/>
<circle cx="631.0" cy="163.1" r="0.85" fill="#4848ff" fill-opacity="0.8"/>
<circle cx="631.0" cy="165.6" r="0.85" fill="#4848ff" fill-opacity="0.8"/>
<circle cx="631.2" cy="168.0" r="0.85" fill="#4848ff" fill-opacity="0.8"/>
<circle cx="631.4" cy="171.0" r="0.85" fill="#4848ff" fill-opacity="0.8"/>
<circle cx="631.5" cy="173.3" r="0.85" fill="#4848ff" fill-opacity="0.8"/>
<circle cx="630.9" cy="175.7" r="0.85" fill="#4848ff" fill-opacity="0.8"/>
<circle cx="631.1" cy="178.0" r="0.85" fill="#4848ff" fill-opacity="0.8"/>
<circle cx="631.5" cy="180.3" r="0.85" fill="#4848ff" fill-opacity="0.8"/>
<circle cx="631.0" cy="182.7" r="0.85" fill="#4848ff" fill-opacity="0.8"/>
<circle cx="631.4" cy="185.0" r="0.85" fill="#4848ff" fill-opacity="0.8"/>
<circle cx="631.3" cy="192.0" r="0.85" fill="#4848ff" fill-opacity="0.8"/>
<circle cx="631.3" cy="194.8" r="0.85" fill="#4848ff" fill-opacity="0.8"/>
<circle cx="631.3" cy="197.6" r="0.85" fill="#4848ff" fill-opacity="0.8"/>
<circle cx="630.9" cy="200.4" r="0.85" fill="#4848ff" fill-opacity="0.8"/>
<circle cx="631.5" cy="203.2" r="0.85" fill="#4848ff" fill-opacity="0.8"/>
<circle cx="631.4" cy="206.0" r="0.85" fill="#4848ff" fill-opacity="0.8"/>
<circle cx="631.5" cy="227.0" r="0.85" fill="#4848ff" fill-opacity="0.8"/>
<circle cx="654.2" cy="95.1" r="0.85" fill="#4848ff" fill-opacity="0.8"/>
<circle cx="654.0" cy="112.0" r="0.85" fill="#4848ff" fill-opacity="0.8"/>
<circle cx="653.7" cy="120.6" r="0.85" fill="#4848ff" fill-opacity="0.8"/>
<circle cx="653.7" cy="123.1" r="0.85" fill="#4848ff" fill-opacity="0.8"/>
<circle cx="653.9" cy="125.7" r="0.85" fill="#4848ff" fill-opacity="0.8"/>
<circle cx="654.2" cy="128.2" r="0.85" fill="#4848ff" fill-opacity="0.8"/>
<circle cx="654.0" cy="130.7" r="0.85" fill="#4848ff" fill-opacity="0.8"/>
<circle cx="653.9" cy="133.3" r="0.85" fill="#4848ff" fill-opacity="0.8"/>
<circle cx="654.2" cy="135.8" r="0.85" fill="#4848ff" fill-opacity="0.8"/>
<circle cx="653.7" cy="138.3" r="0.85" fill="#4848ff" fill-opacity="0.8"/>
<circle cx="654.1" cy="140.9" r="0.85" fill="#4848ff" fill-opacity="0.8"/>
<circle cx="654.2" cy="143.4" r="0.85" fill="#4848ff" fill-opacity="0.8"/>
<circle cx="654.2" cy="145.9" r="0.85" fill="#4848ff" fill-opacity="0.8"/>
<circle cx="654.2" cy="148.5" r="0.85" fill="#4848ff" fill-opacity="0.8"/>
<circle cx="653.6" cy="151.0" r="0.85" fill="#4848ff" fill-opacity="0.8"/>
<circle cx="653.8" cy="160.0" r="0.85" fill="#4848ff" fill-opacity="0.8"/>
<circle cx="654.2" cy="168.6" r="0.85" fill="#4848ff" fill-opacity="0.8"/>
<circle cx="654.2" cy="171.0" r="0.85" fill="#4848ff" fill-opacity="0.8"/>
<circle cx="654.2" cy="180.0" r="0.85" fill="#4848ff" fill-opacity="0.8"/>
<circle cx="654.1" cy="182.4" r="0.85" fill="#4848ff" fill-opacity="0.8"/>
<circle cx="653.8" cy="184.8" r="0.85" fill="#4848ff" fill-opacity="0.8"/>
<circle cx="654.1" cy="187.2" r="0.85" fill="#4848ff" fill-opacity="0.8"/>
<circle cx="653.8" cy="189.6" r="0.85" fill="#4848ff" fill-opacity="0.8"/>
<circle cx="653.7" cy="199.0" r="0.85" fill="#4848ff" fill-opacity="0.8"/>
<circle cx="653.9" cy="205.4" r="0.85" fill="#4848ff" fill-opacity="0.8"/>
<circle cx="676.5" cy="106.3" r="0.85" fill="#4848ff" fill-opacity="0.8"/>
<circle cx="676.6" cy="109.3" r="0.85" fill="#4848ff" fill-opacity="0.8"/>
<circle cx="676.3" cy="128.0" r="0.85" fill="#4848ff" fill-opacity="0.8"/>
<circle cx="676.3" cy="130.7" r="0.85" fill="#4848ff" fill-opacity="0.8"/>
<circle cx="676.3" cy="133.3" r="0.85" fill="#4848ff" fill-opacity="0.8"/>
<circle cx="676.9" cy="136.0" r="0.85" fill="#4848ff" fill-opacity="0.8"/>
<circle cx="676.3" cy="138.6" r="0.85" fill="#4848ff" fill-opacity="0.8"/>
<circle cx="676.3" cy="141.3" r="0.85" fill="#4848ff" fill-opacity="0.8"/>
<circle cx="676.8" cy="143.9" r="0.85" fill="#4848ff" fill-opacity="0.8"/>
<circle cx="676.4" cy="146.6" r="0.85" fill="#4848ff" fill-opacity="0.8"/>
<circle cx="676.4" cy="150.0" r="0.85" fill="#4848ff" fill-opacity="0.8"/>
<circle cx="676.8" cy="152.8" r="0.85" fill="#4848ff" fill-opacity="0.8"/>
<circle cx="676.5" cy="155.6" r="0.85" fill="#4848ff" fill-opacity="0.8"/>
<circle cx="676.8" cy="158.4" r="0.85" fill="#4848ff" fill-opacity="0.8"/>
<circle cx="676.8" cy="161.2" r="0.85" fill="#4848ff" fill-opacity="0.8"/>
<circle cx="676.8" cy="164.0" r="0.85" fill="#4848ff" fill-opacity="0.8"/>
<circle cx="676.8" cy="168.6" r="0.85" fill="#4848ff" fill-opacity="0.8"/>
<circle cx="676.3" cy="173.0" r="0.85" fill="#4848ff" fill-opacity="0.8"/>
<circle cx="676.8" cy="176.0" r="0.85" fill="#4848ff" fill-opacity="0.8"/>
<circle cx="676.6" cy="179.0" r="0.85" fill="#4848ff" fill-opacity="0.8"/>
<circle cx="676.8" cy="193.8" r="0.85" fill="#4848ff" fill-opacity="0.8"/>
<circle cx="699.2" cy="105.6" r="0.85" fill="#4848ff" fill-opacity="0.8"/>
<circle cx="699.3" cy="112.6" r="0.85" fill="#4848ff" fill-opacity="0.8"/>
<circle cx="699.6" cy="114.9" r="0.85" fill="#4848ff" fill-opacity="0.8"/>
<circle cx="699.4" cy="117.2" r="0.85" fill="#4848ff" fill-opacity="0.8"/>
<circle cx="699.3" cy="119.5" r="0.85" fill="#4848ff" fill-opacity="0.8"/>
<circle cx="699.5" cy="121.8" r="0.85" fill="#4848ff" fill-opacity="0.8"/>
<circle cx="699.0" cy="126.3" r="0.85" fill="#4848ff" fill-opacity="0.8"/>
<circle cx="699.1" cy="128.6" r="0.85" fill="#4848ff" fill-opacity="0.8"/>
<circle cx="699.1" cy="130.9" r="0.85" fill="#4848ff" fill-opacity="0.8"/>
<circle cx="699.4" cy="133.2" r="0.85" fill="#4848ff" fill-opacity="0.8"/>
<circle cx="699.2" cy="135.5" r="0.85" fill="#4848ff" fill-opacity="0.8"/>
<circle cx="699.5" cy="141.6" r="0.85" fill="#4848ff" fill-opacity="0.8"/>
<circle cx="699.5" cy="144.2" r="0.85" fill="#4848ff" fill-opacity="0.8"/>
<circle cx="699.2" cy="146.7" r="0.85" fill="#4848ff" fill-opacity="0.8"/>
<circle cx="699.3" cy="149.3" r="0.85" fill="#4848ff" fill-opacity="0.8"/>
<circle cx="699.1" cy="151.9" r="0.85" fill="#4848ff" fill-opacity="0.8"/>
<circle cx="699.0" cy="154.4" r="0.85" fill="#4848ff" fill-opacity="0.8"/>
<circle cx="699.2" cy="157.0" r="0.85" fill="#4848ff" fill-opacity="0.8"/>
<circle cx="699.3" cy="164.4" r="0.85" fill="#4848ff" fill-opacity="0.8"/>
<circle cx="699.2" cy="168.6" r="0.85" fill="#4848ff" fill-opacity="0.8"/>
<circle cx="721.8" cy="105.9" r="0.85" fill="#4848ff" fill-opacity="0.8"/>
<circle cx="722.2" cy="107.8" r="0.85" fill="#4848ff" fill-opacity="0.8"/>
<circle cx="721.8" cy="109.7" r="0.85" fill="#4848ff" fill-opacity="0.8"/>
<circle cx="722.1" cy="108.0" r="0.85" fill="#4848ff" fill-opacity="0.8"/>
<circle cx="722.1" cy="111.0" r="0.85" fill="#4848ff" fill-opacity="0.8"/>
<circle cx="722.1" cy="117.0" r="0.85" fill="#4848ff" fill-opacity="0.8"/>
<circle cx="722.0" cy="120.0" r="0.85" fill="#4848ff" fill-opacity="0.8"/>
<circle cx="722.3" cy="126.3" r="0.85" fill="#4848ff" fill-opacity="0.8"/>
<circle cx="721.8" cy="128.8" r="0.85" fill="#4848ff" fill-opacity="0.8"/>
<circle cx="722.2" cy="131.4" r="0.85" fill="#4848ff" fill-opacity="0.8"/>
<circle cx="722.0" cy="133.9" r="0.85" fill="#4848ff" fill-opacity="0.8"/>
<circle cx="722.2" cy="136.5" r="0.85" fill="#4848ff" fill-opacity="0.8"/>
<circle cx="721.9" cy="139.0" r="0.85" fill="#4848ff" fill-opacity="0.8"/>
<circle cx="721.7" cy="141.6" r="0.85" fill="#4848ff" fill-opacity="0.8"/>
<circle cx="722.1" cy="150.8" r="0.85" fill="#4848ff" fill-opacity="0.8"/>
<circle cx="722.0" cy="153.6" r="0.85" fill="#4848ff" fill-opacity="0.8"/>
<circle cx="722.2" cy="156.5" r="0.85" fill="#4848ff" fill-opacity="0.8"/>
<circle cx="721.8" cy="159.3" r="0.85" fill="#4848ff" fill-opacity="0.8"/>
<circle cx="744.7" cy="100.0" r="0.85" fill="#4848ff" fill-opacity="0.8"/>
<circle cx="744.7" cy="102.5" r="0.85" fill="#4848ff" fill-opacity="0.8"/>
<circle cx="744.6" cy="105.0" r="0.85" fill="#4848ff" fill-opacity="0.8"/>
<circle cx="744.4" cy="107.6" r="0.85" fill="#4848ff" fill-opacity="0.8"/>
<circle cx="744.9" cy="110.1" r="0.85" fill="#4848ff" fill-opacity="0.8"/>
<circle cx="744.5" cy="112.6" r="0.85" fill="#4848ff" fill-opacity="0.8"/>
<circle cx="744.7" cy="121.8" r="0.85" fill="#4848ff" fill-opacity="0.8"/>
<circle cx="744.6" cy="124.2" r="0.85" fill="#4848ff" fill-opacity="0.8"/>
<circle cx="744.6" cy="126.6" r="0.85" fill="#4848ff" fill-opacity="0.8"/>
<circle cx="744.6" cy="129.1" r="0.85" fill="#4848ff" fill-opacity="0.8"/>
<circle cx="744.6" cy="131.5" r="0.85" fill="#4848ff" fill-opacity="0.8"/>
<circle cx="744.4" cy="133.9" r="0.85" fill="#4848ff" fill-opacity="0.8"/>
<circle cx="744.7" cy="136.3" r="0.85" fill="#4848ff" fill-opacity="0.8"/>
<circle cx="744.7" cy="138.7" r="0.85" fill="#4848ff" fill-opacity="0.8"/>
<circle cx="744.8" cy="141.1" r="0.85" fill="#4848ff" fill-opacity="0.8"/>
<circle cx="744.4" cy="143.6" r="0.85" fill="#4848ff" fill-opacity="0.8"/>
<circle cx="744.7" cy="146.0" r="0.85" fill="#4848ff" fill-opacity="0.8"/>
<circle cx="745.0" cy="148.4" r="0.85" fill="#4848ff" fill-opacity="0.8"/>
<circle cx="744.9" cy="150.8" r="0.85" fill="#4848ff" fill-opacity="0.8"/>
<circle cx="744.6" cy="151.0" r="0.85" fill="#4848ff" fill-opacity="0.8"/>
<circle cx="744.9" cy="169.8" r="0.85" fill="#4848ff" fill-opacity="0.8"/>
<circle cx="767.6" cy="103.6" r="0.85" fill="#4848ff" fill-opacity="0.8"/>
<circle cx="767.6" cy="108.0" r="0.85" fill="#4848ff" fill-opacity="0.8"/>
<circle cx="767.7" cy="110.5" r="0.85" fill="#4848ff" fill-opacity="0.8"/>
<circle cx="767.7" cy="113.0" r="0.85" fill="#4848ff" fill-opacity="0.8"/>
<circle cx="767.3" cy="115.5" r="0.85" fill="#4848ff" fill-opacity="0.8"/>
<circle cx="767.5" cy="118.0" r="0.85" fill="#4848ff" fill-opacity="0.8"/>
<circle cx="767.6" cy="120.4" r="0.85" fill="#4848ff" fill-opacity="0.8"/>
<circle cx="767.6" cy="122.9" r="0.85" fill="#4848ff" fill-opacity="0.8"/>
<circle cx="767.1" cy="125.4" r="0.85" fill="#4848ff" fill-opacity="0.8"/>
<circle cx="767.4" cy="127.9" r="0.85" fill="#4848ff" fill-opacity="0.8"/>
<circle cx="767.6" cy="130.4" r="0.85" fill="#4848ff" fill-opacity="0.8"/>
<circle cx="767.1" cy="132.9" r="0.85" fill="#4848ff" fill-opacity="0.8"/>
<circle cx="767.4" cy="135.4" r="0.85" fill="#4848ff" fill-opacity="0.8"/>
<circle cx="767.2" cy="137.9" r="0.85" fill="#4848ff" fill-opacity="0.8"/>
<circle cx="767.5" cy="140.3" r="0.85" fill="#4848ff" fill-opacity="0.8"/>
<circle cx="767.5" cy="142.8" r="0.85" fill="#4848ff" fill-opacity="0.8"/>
<circle cx="767.7" cy="145.3" r="0.85" fill="#4848ff" fill-opacity="0.8"/>
<circle cx="767.4" cy="147.8" r="0.85" fill="#4848ff" fill-opacity="0.8"/>
<circle cx="571.8" cy="97.0" r="1.1" fill="#c0303a" fill-opacity="0.55"/>
<circle cx="572.3" cy="116.3" r="1.1" fill="#c0303a" fill-opacity="0.55"/>
<circle cx="572.2" cy="116.0" r="1.1" fill="#c0303a" fill-opacity="0.55"/>
<circle cx="571.9" cy="118.0" r="1.1" fill="#c0303a" fill-opacity="0.55"/>
<circle cx="572.3" cy="119.9" r="1.1" fill="#c0303a" fill-opacity="0.55"/>
<circle cx="572.2" cy="121.9" r="1.1" fill="#c0303a" fill-opacity="0.55"/>
<circle cx="572.3" cy="123.9" r="1.1" fill="#c0303a" fill-opacity="0.55"/>
<circle cx="572.2" cy="125.8" r="1.1" fill="#c0303a" fill-opacity="0.55"/>
<circle cx="572.3" cy="127.8" r="1.1" fill="#c0303a" fill-opacity="0.55"/>
<circle cx="572.3" cy="129.8" r="1.1" fill="#c0303a" fill-opacity="0.55"/>
<circle cx="572.0" cy="131.7" r="1.1" fill="#c0303a" fill-opacity="0.55"/>
<circle cx="571.8" cy="133.7" r="1.1" fill="#c0303a" fill-opacity="0.55"/>
<circle cx="572.4" cy="135.6" r="1.1" fill="#c0303a" fill-opacity="0.55"/>
<circle cx="571.8" cy="137.6" r="1.1" fill="#c0303a" fill-opacity="0.55"/>
<circle cx="572.1" cy="139.6" r="1.1" fill="#c0303a" fill-opacity="0.55"/>
<circle cx="572.4" cy="141.5" r="1.1" fill="#c0303a" fill-opacity="0.55"/>
<circle cx="572.0" cy="143.5" r="1.1" fill="#c0303a" fill-opacity="0.55"/>
<circle cx="571.9" cy="120.0" r="1.1" fill="#c0303a" fill-opacity="0.55"/>
<circle cx="572.0" cy="121.6" r="1.1" fill="#c0303a" fill-opacity="0.55"/>
<circle cx="571.9" cy="123.1" r="1.1" fill="#c0303a" fill-opacity="0.55"/>
<circle cx="572.3" cy="124.7" r="1.1" fill="#c0303a" fill-opacity="0.55"/>
<circle cx="572.0" cy="126.2" r="1.1" fill="#c0303a" fill-opacity="0.55"/>
<circle cx="571.8" cy="127.8" r="1.1" fill="#c0303a" fill-opacity="0.55"/>
<circle cx="572.2" cy="129.3" r="1.1" fill="#c0303a" fill-opacity="0.55"/>
<circle cx="571.9" cy="130.9" r="1.1" fill="#c0303a" fill-opacity="0.55"/>
<circle cx="571.9" cy="132.4" r="1.1" fill="#c0303a" fill-opacity="0.55"/>
<circle cx="571.8" cy="134.0" r="1.1" fill="#c0303a" fill-opacity="0.55"/>
<circle cx="594.7" cy="107.4" r="1.1" fill="#c0303a" fill-opacity="0.55"/>
<circle cx="594.9" cy="109.3" r="1.1" fill="#c0303a" fill-opacity="0.55"/>
<circle cx="595.0" cy="115.0" r="1.1" fill="#c0303a" fill-opacity="0.55"/>
<circle cx="594.7" cy="116.3" r="1.1" fill="#c0303a" fill-opacity="0.55"/>
<circle cx="594.6" cy="116.0" r="1.1" fill="#c0303a" fill-opacity="0.55"/>
<circle cx="594.5" cy="118.0" r="1.1" fill="#c0303a" fill-opacity="0.55"/>
<circle cx="594.7" cy="120.0" r="1.1" fill="#c0303a" fill-opacity="0.55"/>
<circle cx="594.5" cy="122.0" r="1.1" fill="#c0303a" fill-opacity="0.55"/>
<circle cx="594.5" cy="124.0" r="1.1" fill="#c0303a" fill-opacity="0.55"/>
<circle cx="594.8" cy="126.0" r="1.1" fill="#c0303a" fill-opacity="0.55"/>
<circle cx="594.8" cy="128.0" r="1.1" fill="#c0303a" fill-opacity="0.55"/>
<circle cx="595.0" cy="130.0" r="1.1" fill="#c0303a" fill-opacity="0.55"/>
<circle cx="594.5" cy="132.0" r="1.1" fill="#c0303a" fill-opacity="0.55"/>
<circle cx="594.5" cy="134.0" r="1.1" fill="#c0303a" fill-opacity="0.55"/>
<circle cx="594.5" cy="136.0" r="1.1" fill="#c0303a" fill-opacity="0.55"/>
<circle cx="594.7" cy="119.0" r="1.1" fill="#c0303a" fill-opacity="0.55"/>
<circle cx="594.5" cy="120.5" r="1.1" fill="#c0303a" fill-opacity="0.55"/>
<circle cx="595.0" cy="122.0" r="1.1" fill="#c0303a" fill-opacity="0.55"/>
<circle cx="594.9" cy="123.5" r="1.1" fill="#c0303a" fill-opacity="0.55"/>
<circle cx="595.1" cy="125.0" r="1.1" fill="#c0303a" fill-opacity="0.55"/>
<circle cx="594.6" cy="126.5" r="1.1" fill="#c0303a" fill-opacity="0.55"/>
<circle cx="595.1" cy="128.0" r="1.1" fill="#c0303a" fill-opacity="0.55"/>
<circle cx="594.7" cy="129.5" r="1.1" fill="#c0303a" fill-opacity="0.55"/>
<circle cx="595.0" cy="131.0" r="1.1" fill="#c0303a" fill-opacity="0.55"/>
<circle cx="617.8" cy="76.5" r="1.1" fill="#c0303a" fill-opacity="0.55"/>
<circle cx="617.3" cy="81.9" r="1.1" fill="#c0303a" fill-opacity="0.55"/>
<circle cx="617.3" cy="115.1" r="1.1" fill="#c0303a" fill-opacity="0.55"/>
<circle cx="617.3" cy="116.0" r="1.1" fill="#c0303a" fill-opacity="0.55"/>
<circle cx="617.4" cy="128.0" r="1.1" fill="#c0303a" fill-opacity="0.55"/>
<circle cx="617.3" cy="129.7" r="1.1" fill="#c0303a" fill-opacity="0.55"/>
<circle cx="617.4" cy="131.3" r="1.1" fill="#c0303a" fill-opacity="0.55"/>
<circle cx="617.7" cy="144.3" r="1.1" fill="#c0303a" fill-opacity="0.55"/>
<circle cx="617.4" cy="146.2" r="1.1" fill="#c0303a" fill-opacity="0.55"/>
<circle cx="617.6" cy="148.0" r="1.1" fill="#c0303a" fill-opacity="0.55"/>
<circle cx="617.7" cy="165.0" r="1.1" fill="#c0303a" fill-opacity="0.55"/>
<circle cx="617.3" cy="164.0" r="1.1" fill="#c0303a" fill-opacity="0.55"/>
<circle cx="617.2" cy="166.7" r="1.1" fill="#c0303a" fill-opacity="0.55"/>
<circle cx="617.7" cy="169.4" r="1.1" fill="#c0303a" fill-opacity="0.55"/>
<circle cx="617.4" cy="172.1" r="1.1" fill="#c0303a" fill-opacity="0.55"/>
<circle cx="617.2" cy="174.8" r="1.1" fill="#c0303a" fill-opacity="0.55"/>
<circle cx="617.5" cy="177.5" r="1.1" fill="#c0303a" fill-opacity="0.55"/>
<circle cx="617.8" cy="180.2" r="1.1" fill="#c0303a" fill-opacity="0.55"/>
<circle cx="617.8" cy="182.8" r="1.1" fill="#c0303a" fill-opacity="0.55"/>
<circle cx="617.2" cy="185.5" r="1.1" fill="#c0303a" fill-opacity="0.55"/>
<circle cx="617.3" cy="188.2" r="1.1" fill="#c0303a" fill-opacity="0.55"/>
<circle cx="617.4" cy="190.9" r="1.1" fill="#c0303a" fill-opacity="0.55"/>
<circle cx="617.8" cy="193.6" r="1.1" fill="#c0303a" fill-opacity="0.55"/>
<circle cx="617.3" cy="196.3" r="1.1" fill="#c0303a" fill-opacity="0.55"/>
<circle cx="617.5" cy="199.0" r="1.1" fill="#c0303a" fill-opacity="0.55"/>
<circle cx="617.5" cy="211.0" r="1.1" fill="#c0303a" fill-opacity="0.55"/>
<circle cx="617.8" cy="239.6" r="1.1" fill="#c0303a" fill-opacity="0.55"/>
<circle cx="617.7" cy="242.6" r="1.1" fill="#c0303a" fill-opacity="0.55"/>
<circle cx="639.9" cy="55.1" r="1.1" fill="#c0303a" fill-opacity="0.55"/>
<circle cx="640.0" cy="101.6" r="1.1" fill="#c0303a" fill-opacity="0.55"/>
<circle cx="639.9" cy="105.6" r="1.1" fill="#c0303a" fill-opacity="0.55"/>
<circle cx="640.2" cy="125.0" r="1.1" fill="#c0303a" fill-opacity="0.55"/>
<circle cx="640.0" cy="128.0" r="1.1" fill="#c0303a" fill-opacity="0.55"/>
<circle cx="640.1" cy="136.0" r="1.1" fill="#c0303a" fill-opacity="0.55"/>
<circle cx="640.5" cy="137.5" r="1.1" fill="#c0303a" fill-opacity="0.55"/>
<circle cx="640.2" cy="139.0" r="1.1" fill="#c0303a" fill-opacity="0.55"/>
<circle cx="639.9" cy="146.6" r="1.1" fill="#c0303a" fill-opacity="0.55"/>
<circle cx="640.1" cy="148.6" r="1.1" fill="#c0303a" fill-opacity="0.55"/>
<circle cx="640.2" cy="150.7" r="1.1" fill="#c0303a" fill-opacity="0.55"/>
<circle cx="639.9" cy="152.7" r="1.1" fill="#c0303a" fill-opacity="0.55"/>
<circle cx="640.4" cy="160.0" r="1.1" fill="#c0303a" fill-opacity="0.55"/>
<circle cx="640.1" cy="162.2" r="1.1" fill="#c0303a" fill-opacity="0.55"/>
<circle cx="640.1" cy="164.3" r="1.1" fill="#c0303a" fill-opacity="0.55"/>
<circle cx="640.1" cy="166.5" r="1.1" fill="#c0303a" fill-opacity="0.55"/>
<circle cx="640.0" cy="166.3" r="1.1" fill="#c0303a" fill-opacity="0.55"/>
<circle cx="640.1" cy="174.5" r="1.1" fill="#c0303a" fill-opacity="0.55"/>
<circle cx="640.3" cy="192.0" r="1.1" fill="#c0303a" fill-opacity="0.55"/>
<circle cx="640.4" cy="200.7" r="1.1" fill="#c0303a" fill-opacity="0.55"/>
<circle cx="663.1" cy="99.3" r="1.1" fill="#c0303a" fill-opacity="0.55"/>
<circle cx="663.2" cy="104.7" r="1.1" fill="#c0303a" fill-opacity="0.55"/>
<circle cx="663.1" cy="112.0" r="1.1" fill="#c0303a" fill-opacity="0.55"/>
<circle cx="663.2" cy="118.6" r="1.1" fill="#c0303a" fill-opacity="0.55"/>
<circle cx="663.2" cy="118.3" r="1.1" fill="#c0303a" fill-opacity="0.55"/>
<circle cx="663.1" cy="129.8" r="1.1" fill="#c0303a" fill-opacity="0.55"/>
<circle cx="663.2" cy="131.3" r="1.1" fill="#c0303a" fill-opacity="0.55"/>
<circle cx="662.7" cy="132.8" r="1.1" fill="#c0303a" fill-opacity="0.55"/>
<circle cx="663.1" cy="142.0" r="1.1" fill="#c0303a" fill-opacity="0.55"/>
<circle cx="662.9" cy="144.2" r="1.1" fill="#c0303a" fill-opacity="0.55"/>
<circle cx="662.8" cy="146.5" r="1.1" fill="#c0303a" fill-opacity="0.55"/>
<circle cx="662.9" cy="148.8" r="1.1" fill="#c0303a" fill-opacity="0.55"/>
<circle cx="662.8" cy="151.0" r="1.1" fill="#c0303a" fill-opacity="0.55"/>
<circle cx="663.2" cy="159.0" r="1.1" fill="#c0303a" fill-opacity="0.55"/>
<circle cx="663.1" cy="161.6" r="1.1" fill="#c0303a" fill-opacity="0.55"/>
<circle cx="662.8" cy="164.2" r="1.1" fill="#c0303a" fill-opacity="0.55"/>
<circle cx="663.0" cy="166.9" r="1.1" fill="#c0303a" fill-opacity="0.55"/>
<circle cx="662.6" cy="169.5" r="1.1" fill="#c0303a" fill-opacity="0.55"/>
<circle cx="662.6" cy="172.1" r="1.1" fill="#c0303a" fill-opacity="0.55"/>
<circle cx="663.2" cy="174.7" r="1.1" fill="#c0303a" fill-opacity="0.55"/>
<circle cx="663.2" cy="177.4" r="1.1" fill="#c0303a" fill-opacity="0.55"/>
<circle cx="662.8" cy="180.0" r="1.1" fill="#c0303a" fill-opacity="0.55"/>
<circle cx="662.7" cy="182.6" r="1.1" fill="#c0303a" fill-opacity="0.55"/>
<circle cx="662.8" cy="194.0" r="1.1" fill="#c0303a" fill-opacity="0.55"/>
<circle cx="662.6" cy="196.7" r="1.1" fill="#c0303a" fill-opacity="0.55"/>
<circle cx="663.1" cy="199.3" r="1.1" fill="#c0303a" fill-opacity="0.55"/>
<circle cx="663.2" cy="202.0" r="1.1" fill="#c0303a" fill-opacity="0.55"/>
<circle cx="685.8" cy="114.0" r="1.1" fill="#c0303a" fill-opacity="0.55"/>
<circle cx="685.3" cy="121.8" r="1.1" fill="#c0303a" fill-opacity="0.55"/>
<circle cx="685.8" cy="124.6" r="1.1" fill="#c0303a" fill-opacity="0.55"/>
<circle cx="685.3" cy="127.4" r="1.1" fill="#c0303a" fill-opacity="0.55"/>
<circle cx="685.4" cy="130.2" r="1.1" fill="#c0303a" fill-opacity="0.55"/>
<circle cx="685.9" cy="133.0" r="1.1" fill="#c0303a" fill-opacity="0.55"/>
<circle cx="685.4" cy="135.8" r="1.1" fill="#c0303a" fill-opacity="0.55"/>
<circle cx="685.6" cy="138.6" r="1.1" fill="#c0303a" fill-opacity="0.55"/>
<circle cx="685.6" cy="144.7" r="1.1" fill="#c0303a" fill-opacity="0.55"/>
<circle cx="685.3" cy="147.2" r="1.1" fill="#c0303a" fill-opacity="0.55"/>
<circle cx="685.4" cy="149.6" r="1.1" fill="#c0303a" fill-opacity="0.55"/>
<circle cx="685.5" cy="152.1" r="1.1" fill="#c0303a" fill-opacity="0.55"/>
<circle cx="685.3" cy="154.5" r="1.1" fill="#c0303a" fill-opacity="0.55"/>
<circle cx="685.5" cy="157.0" r="1.1" fill="#c0303a" fill-opacity="0.55"/>
<circle cx="685.9" cy="173.3" r="1.1" fill="#c0303a" fill-opacity="0.55"/>
<circle cx="685.4" cy="179.0" r="1.1" fill="#c0303a" fill-opacity="0.55"/>
<circle cx="685.4" cy="207.0" r="1.1" fill="#c0303a" fill-opacity="0.55"/>
<circle cx="685.9" cy="210.0" r="1.1" fill="#c0303a" fill-opacity="0.55"/>
<circle cx="708.0" cy="96.7" r="1.1" fill="#c0303a" fill-opacity="0.55"/>
<circle cx="708.3" cy="104.8" r="1.1" fill="#c0303a" fill-opacity="0.55"/>
<circle cx="708.3" cy="108.2" r="1.1" fill="#c0303a" fill-opacity="0.55"/>
<circle cx="708.5" cy="111.5" r="1.1" fill="#c0303a" fill-opacity="0.55"/>
<circle cx="708.6" cy="108.0" r="1.1" fill="#c0303a" fill-opacity="0.55"/>
<circle cx="708.4" cy="110.2" r="1.1" fill="#c0303a" fill-opacity="0.55"/>
<circle cx="708.6" cy="112.5" r="1.1" fill="#c0303a" fill-opacity="0.55"/>
<circle cx="708.5" cy="114.8" r="1.1" fill="#c0303a" fill-opacity="0.55"/>
<circle cx="708.5" cy="117.0" r="1.1" fill="#c0303a" fill-opacity="0.55"/>
<circle cx="708.6" cy="120.0" r="1.1" fill="#c0303a" fill-opacity="0.55"/>
<circle cx="708.5" cy="122.4" r="1.1" fill="#c0303a" fill-opacity="0.55"/>
<circle cx="708.3" cy="124.9" r="1.1" fill="#c0303a" fill-opacity="0.55"/>
<circle cx="708.4" cy="127.3" r="1.1" fill="#c0303a" fill-opacity="0.55"/>
<circle cx="708.2" cy="129.7" r="1.1" fill="#c0303a" fill-opacity="0.55"/>
<circle cx="708.2" cy="132.1" r="1.1" fill="#c0303a" fill-opacity="0.55"/>
<circle cx="708.3" cy="134.6" r="1.1" fill="#c0303a" fill-opacity="0.55"/>
<circle cx="708.4" cy="137.0" r="1.1" fill="#c0303a" fill-opacity="0.55"/>
<circle cx="708.4" cy="139.4" r="1.1" fill="#c0303a" fill-opacity="0.55"/>
<circle cx="708.4" cy="141.9" r="1.1" fill="#c0303a" fill-opacity="0.55"/>
<circle cx="708.5" cy="144.3" r="1.1" fill="#c0303a" fill-opacity="0.55"/>
<circle cx="708.1" cy="146.7" r="1.1" fill="#c0303a" fill-opacity="0.55"/>
<circle cx="708.3" cy="149.1" r="1.1" fill="#c0303a" fill-opacity="0.55"/>
<circle cx="708.0" cy="151.6" r="1.1" fill="#c0303a" fill-opacity="0.55"/>
<circle cx="708.4" cy="154.0" r="1.1" fill="#c0303a" fill-opacity="0.55"/>
<circle cx="708.3" cy="161.6" r="1.1" fill="#c0303a" fill-opacity="0.55"/>
<circle cx="708.4" cy="165.0" r="1.1" fill="#c0303a" fill-opacity="0.55"/>
<circle cx="708.4" cy="169.8" r="1.1" fill="#c0303a" fill-opacity="0.55"/>
<circle cx="708.5" cy="178.0" r="1.1" fill="#c0303a" fill-opacity="0.55"/>
<circle cx="708.0" cy="198.0" r="1.1" fill="#c0303a" fill-opacity="0.55"/>
<circle cx="731.2" cy="105.6" r="1.1" fill="#c0303a" fill-opacity="0.55"/>
<circle cx="730.7" cy="114.0" r="1.1" fill="#c0303a" fill-opacity="0.55"/>
<circle cx="731.1" cy="116.3" r="1.1" fill="#c0303a" fill-opacity="0.55"/>
<circle cx="731.0" cy="118.7" r="1.1" fill="#c0303a" fill-opacity="0.55"/>
<circle cx="731.2" cy="121.0" r="1.1" fill="#c0303a" fill-opacity="0.55"/>
<circle cx="730.9" cy="123.3" r="1.1" fill="#c0303a" fill-opacity="0.55"/>
<circle cx="731.0" cy="125.7" r="1.1" fill="#c0303a" fill-opacity="0.55"/>
<circle cx="730.8" cy="128.0" r="1.1" fill="#c0303a" fill-opacity="0.55"/>
<circle cx="731.2" cy="134.0" r="1.1" fill="#c0303a" fill-opacity="0.55"/>
<circle cx="731.2" cy="136.4" r="1.1" fill="#c0303a" fill-opacity="0.55"/>
<circle cx="731.3" cy="138.8" r="1.1" fill="#c0303a" fill-opacity="0.55"/>
<circle cx="731.1" cy="141.2" r="1.1" fill="#c0303a" fill-opacity="0.55"/>
<circle cx="731.1" cy="143.6" r="1.1" fill="#c0303a" fill-opacity="0.55"/>
<circle cx="731.2" cy="146.0" r="1.1" fill="#c0303a" fill-opacity="0.55"/>
<circle cx="731.2" cy="148.4" r="1.1" fill="#c0303a" fill-opacity="0.55"/>
<circle cx="731.2" cy="150.8" r="1.1" fill="#c0303a" fill-opacity="0.55"/>
<circle cx="730.7" cy="164.0" r="1.1" fill="#c0303a" fill-opacity="0.55"/>
<circle cx="730.8" cy="171.0" r="1.1" fill="#c0303a" fill-opacity="0.55"/>
<circle cx="731.2" cy="174.4" r="1.1" fill="#c0303a" fill-opacity="0.55"/>
<circle cx="731.1" cy="180.0" r="1.1" fill="#c0303a" fill-opacity="0.55"/>
<circle cx="753.4" cy="100.0" r="1.1" fill="#c0303a" fill-opacity="0.55"/>
<circle cx="753.7" cy="104.6" r="1.1" fill="#c0303a" fill-opacity="0.55"/>
<circle cx="753.7" cy="112.6" r="1.1" fill="#c0303a" fill-opacity="0.55"/>
<circle cx="754.0" cy="115.0" r="1.1" fill="#c0303a" fill-opacity="0.55"/>
<circle cx="753.8" cy="117.5" r="1.1" fill="#c0303a" fill-opacity="0.55"/>
<circle cx="753.5" cy="119.9" r="1.1" fill="#c0303a" fill-opacity="0.55"/>
<circle cx="753.4" cy="122.4" r="1.1" fill="#c0303a" fill-opacity="0.55"/>
<circle cx="753.9" cy="124.8" r="1.1" fill="#c0303a" fill-opacity="0.55"/>
<circle cx="753.7" cy="132.5" r="1.1" fill="#c0303a" fill-opacity="0.55"/>
<circle cx="753.9" cy="134.9" r="1.1" fill="#c0303a" fill-opacity="0.55"/>
<circle cx="754.0" cy="137.3" r="1.1" fill="#c0303a" fill-opacity="0.55"/>
<circle cx="753.7" cy="139.7" r="1.1" fill="#c0303a" fill-opacity="0.55"/>
<circle cx="753.9" cy="142.1" r="1.1" fill="#c0303a" fill-opacity="0.55"/>
<circle cx="753.4" cy="144.5" r="1.1" fill="#c0303a" fill-opacity="0.55"/>
<circle cx="753.4" cy="146.9" r="1.1" fill="#c0303a" fill-opacity="0.55"/>
<circle cx="754.0" cy="149.3" r="1.1" fill="#c0303a" fill-opacity="0.55"/>
<circle cx="753.8" cy="150.0" r="1.1" fill="#c0303a" fill-opacity="0.55"/>
<circle cx="776.7" cy="111.7" r="1.1" fill="#c0303a" fill-opacity="0.55"/>
<circle cx="776.4" cy="112.6" r="1.1" fill="#c0303a" fill-opacity="0.55"/>
<circle cx="776.5" cy="115.1" r="1.1" fill="#c0303a" fill-opacity="0.55"/>
<circle cx="776.4" cy="117.6" r="1.1" fill="#c0303a" fill-opacity="0.55"/>
<circle cx="776.2" cy="120.1" r="1.1" fill="#c0303a" fill-opacity="0.55"/>
<circle cx="776.3" cy="122.7" r="1.1" fill="#c0303a" fill-opacity="0.55"/>
<circle cx="776.5" cy="125.2" r="1.1" fill="#c0303a" fill-opacity="0.55"/>
<circle cx="776.1" cy="127.7" r="1.1" fill="#c0303a" fill-opacity="0.55"/>
<circle cx="776.7" cy="130.2" r="1.1" fill="#c0303a" fill-opacity="0.55"/>
<circle cx="776.1" cy="132.7" r="1.1" fill="#c0303a" fill-opacity="0.55"/>
<circle cx="776.6" cy="135.2" r="1.1" fill="#c0303a" fill-opacity="0.55"/>
<circle cx="776.4" cy="137.7" r="1.1" fill="#c0303a" fill-opacity="0.55"/>
<circle cx="776.1" cy="140.3" r="1.1" fill="#c0303a" fill-opacity="0.55"/>
<circle cx="776.4" cy="142.8" r="1.1" fill="#c0303a" fill-opacity="0.55"/>
<circle cx="776.3" cy="145.3" r="1.1" fill="#c0303a" fill-opacity="0.55"/>
<circle cx="776.2" cy="147.8" r="1.1" fill="#c0303a" fill-opacity="0.55"/>
<circle cx="776.1" cy="153.0" r="1.1" fill="#c0303a" fill-opacity="0.55"/>
<circle cx="776.7" cy="153.5" r="1.1" fill="#c0303a" fill-opacity="0.55"/>
<circle cx="776.5" cy="164.0" r="1.1" fill="#c0303a" fill-opacity="0.55"/>
<line x1="552.2" y1="155.5" x2="783.4000000000001" y2="155.5" stroke="#000" stroke-width="1.5" stroke-dasharray="1.5 2.9" stroke-dashoffset="0.9"/>
<polyline points="567.6,125.5 590.3,125.5 613.0,177.2 635.7,150.2 658.4,147.9 681.1,141.6 703.8,137.1 726.5,131.2 749.2,132.8 771.9,123.6" fill="none" stroke="#b0121b" stroke-width="1"/>
<polyline points="567.6,128.0 590.3,129.5 613.0,184.2 635.7,157.3 658.4,140.1 681.1,146.5 703.8,134.4 726.5,131.6 749.2,123.6 771.9,127.5" fill="none" stroke="#0000ff" stroke-width="1"/>
<path d="M567.6 122.5V128.0" stroke="#b0121b" stroke-width="1.7" fill="none"/>
<path d="M564.7 122.5H570.5M564.7 128.0H570.5" stroke="#b0121b" stroke-width="1.5" fill="none"/>
<path d="M590.3 119.7V128.0" stroke="#b0121b" stroke-width="1.7" fill="none"/>
<path d="M587.4 119.7H593.2M587.4 128.0H593.2" stroke="#b0121b" stroke-width="1.5" fill="none"/>
<path d="M613.0 157.2V191.0" stroke="#b0121b" stroke-width="1.7" fill="none"/>
<path d="M610.1 157.2H615.9M610.1 191.0H615.9" stroke="#b0121b" stroke-width="1.5" fill="none"/>
<path d="M635.7 146.0V154.0" stroke="#b0121b" stroke-width="1.7" fill="none"/>
<path d="M632.8 146.0H638.6M632.8 154.0H638.6" stroke="#b0121b" stroke-width="1.5" fill="none"/>
<path d="M658.4 134.2V175.6" stroke="#b0121b" stroke-width="1.7" fill="none"/>
<path d="M655.5 134.2H661.3M655.5 175.6H661.3" stroke="#b0121b" stroke-width="1.5" fill="none"/>
<path d="M681.1 138.0V151.4" stroke="#b0121b" stroke-width="1.7" fill="none"/>
<path d="M678.2 138.0H684.0M678.2 151.4H684.0" stroke="#b0121b" stroke-width="1.5" fill="none"/>
<path d="M703.8 126.4V149.5" stroke="#b0121b" stroke-width="1.7" fill="none"/>
<path d="M700.9 126.4H706.7M700.9 149.5H706.7" stroke="#b0121b" stroke-width="1.5" fill="none"/>
<path d="M726.5 124.0V136.0" stroke="#b0121b" stroke-width="1.7" fill="none"/>
<path d="M723.6 124.0H729.4M723.6 136.0H729.4" stroke="#b0121b" stroke-width="1.5" fill="none"/>
<path d="M749.2 120.8V136.0" stroke="#b0121b" stroke-width="1.7" fill="none"/>
<path d="M746.3 120.8H752.1M746.3 136.0H752.1" stroke="#b0121b" stroke-width="1.5" fill="none"/>
<path d="M771.9 120.8V128.0" stroke="#b0121b" stroke-width="1.7" fill="none"/>
<path d="M769.0 120.8H774.8M769.0 128.0H774.8" stroke="#b0121b" stroke-width="1.5" fill="none"/>
<path d="M567.6 124.2V131.8" stroke="#0000ff" stroke-width="1.9" fill="none"/>
<path d="M564.7 124.2H570.5M564.7 131.8H570.5" stroke="#0000ff" stroke-width="1.9" fill="none"/>
<path d="M590.3 125.4V136.7" stroke="#0000ff" stroke-width="1.9" fill="none"/>
<path d="M587.4 125.4H593.2M587.4 136.7H593.2" stroke="#0000ff" stroke-width="1.9" fill="none"/>
<path d="M613.0 171.3V189.6" stroke="#0000ff" stroke-width="1.9" fill="none"/>
<path d="M610.1 171.3H615.9M610.1 189.6H615.9" stroke="#0000ff" stroke-width="1.9" fill="none"/>
<path d="M635.7 142.8V177.3" stroke="#0000ff" stroke-width="1.9" fill="none"/>
<path d="M632.8 142.8H638.6M632.8 177.3H638.6" stroke="#0000ff" stroke-width="1.9" fill="none"/>
<path d="M658.4 128.8V160.1" stroke="#0000ff" stroke-width="1.9" fill="none"/>
<path d="M655.5 128.8H661.3M655.5 160.1H661.3" stroke="#0000ff" stroke-width="1.9" fill="none"/>
<path d="M681.1 136.3V158.8" stroke="#0000ff" stroke-width="1.9" fill="none"/>
<path d="M678.2 136.3H684.0M678.2 158.8H684.0" stroke="#0000ff" stroke-width="1.9" fill="none"/>
<path d="M703.8 128.4V141.9" stroke="#0000ff" stroke-width="1.9" fill="none"/>
<path d="M700.9 128.4H706.7M700.9 141.9H706.7" stroke="#0000ff" stroke-width="1.9" fill="none"/>
<path d="M726.5 126.4V142.3" stroke="#0000ff" stroke-width="1.9" fill="none"/>
<path d="M723.6 126.4H729.4M723.6 142.3H729.4" stroke="#0000ff" stroke-width="1.9" fill="none"/>
<path d="M749.2 116.8V129.6" stroke="#0000ff" stroke-width="1.9" fill="none"/>
<path d="M746.3 116.8H752.1M746.3 129.6H752.1" stroke="#0000ff" stroke-width="1.9" fill="none"/>
<path d="M771.9 120.8V134.8" stroke="#0000ff" stroke-width="1.9" fill="none"/>
<path d="M769.0 120.8H774.8M769.0 134.8H774.8" stroke="#0000ff" stroke-width="1.9" fill="none"/>
<path d="M567.6 122.5L570.6 125.5L567.6 128.5L564.6 125.5Z" fill="#fff" stroke="#b0121b" stroke-width="1.5"/>
<path d="M590.3 122.5L593.3 125.5L590.3 128.5L587.3 125.5Z" fill="#fff" stroke="#b0121b" stroke-width="1.5"/>
<path d="M613.0 174.2L616.0 177.2L613.0 180.2L610.0 177.2Z" fill="#fff" stroke="#b0121b" stroke-width="1.5"/>
<path d="M635.7 147.2L638.7 150.2L635.7 153.2L632.7 150.2Z" fill="#fff" stroke="#b0121b" stroke-width="1.5"/>
<path d="M658.4 144.9L661.4 147.9L658.4 150.9L655.4 147.9Z" fill="#fff" stroke="#b0121b" stroke-width="1.5"/>
<path d="M681.1 138.6L684.1 141.6L681.1 144.6L678.1 141.6Z" fill="#fff" stroke="#b0121b" stroke-width="1.5"/>
<path d="M703.8 134.1L706.8 137.1L703.8 140.1L700.8 137.1Z" fill="#fff" stroke="#b0121b" stroke-width="1.5"/>
<path d="M726.5 128.2L729.5 131.2L726.5 134.2L723.5 131.2Z" fill="#fff" stroke="#b0121b" stroke-width="1.5"/>
<path d="M749.2 129.8L752.2 132.8L749.2 135.8L746.2 132.8Z" fill="#fff" stroke="#b0121b" stroke-width="1.5"/>
<path d="M771.9 120.6L774.9 123.6L771.9 126.6L768.9 123.6Z" fill="#fff" stroke="#b0121b" stroke-width="1.5"/>
<circle cx="567.6" cy="128.0" r="3.1" fill="#0000ff"/>
<circle cx="590.3" cy="129.5" r="3.1" fill="#0000ff"/>
<circle cx="613.0" cy="184.2" r="3.1" fill="#0000ff"/>
<circle cx="635.7" cy="157.3" r="3.1" fill="#0000ff"/>
<circle cx="658.4" cy="140.1" r="3.1" fill="#0000ff"/>
<circle cx="681.1" cy="146.5" r="3.1" fill="#0000ff"/>
<circle cx="703.8" cy="134.4" r="3.1" fill="#0000ff"/>
<circle cx="726.5" cy="131.6" r="3.1" fill="#0000ff"/>
<circle cx="749.2" cy="123.6" r="3.1" fill="#0000ff"/>
<circle cx="771.9" cy="127.5" r="3.1" fill="#0000ff"/>
<path d="M552.2 25.3V285.3H783.4000000000001" fill="none" stroke="#000" stroke-width="1.6"/>
<path d="M549.6 279.70H552.2 M549.6 274.30H552.2 M549.6 268.90H552.2 M547.9 263.50H552.2 M549.6 258.10H552.2 M549.6 252.70H552.2 M549.6 247.30H552.2 M549.6 241.90H552.2 M547.9 236.50H552.2 M549.6 231.10H552.2 M549.6 225.70H552.2 M549.6 220.30H552.2 M549.6 214.90H552.2 M547.9 209.50H552.2 M549.6 204.10H552.2 M549.6 198.70H552.2 M549.6 193.30H552.2 M549.6 187.90H552.2 M547.9 182.50H552.2 M549.6 177.10H552.2 M549.6 171.70H552.2 M549.6 166.30H552.2 M549.6 160.90H552.2 M547.9 155.50H552.2 M549.6 150.10H552.2 M549.6 144.70H552.2 M549.6 139.30H552.2 M549.6 133.90H552.2 M547.9 128.50H552.2 M549.6 123.10H552.2 M549.6 117.70H552.2 M549.6 112.30H552.2 M549.6 106.90H552.2 M547.9 101.50H552.2 M549.6 96.10H552.2 M549.6 90.70H552.2 M549.6 85.30H552.2 M549.6 79.90H552.2 M547.9 74.50H552.2 M549.6 69.10H552.2 M549.6 63.70H552.2 M549.6 58.30H552.2 M549.6 52.90H552.2 M547.9 47.50H552.2 M549.6 42.10H552.2 M549.6 36.70H552.2 M549.6 31.30H552.2 M549.6 25.90H552.2" stroke="#000" stroke-width="1.3"/>
<path d="M567.6 285.3V289.6 M590.3 285.3V289.6 M613.0 285.3V289.6 M635.7 285.3V289.6 M658.4 285.3V289.6 M681.1 285.3V289.6 M703.8 285.3V289.6 M726.5 285.3V289.6 M749.2 285.3V289.6 M771.9 285.3V289.6" stroke="#000" stroke-width="1.3"/>
<text x="571.4" y="299.8" transform="rotate(-45 571.4 299.8)" text-anchor="end" class="xl">Base</text>
<text x="594.1" y="299.8" transform="rotate(-45 594.1 299.8)" text-anchor="end" class="xl">Pre</text>
<text x="616.8" y="299.8" transform="rotate(-45 616.8 299.8)" text-anchor="end" class="xl">Post1</text>
<text x="639.5" y="299.8" transform="rotate(-45 639.5 299.8)" text-anchor="end" class="xl">Post2</text>
<text x="662.2" y="299.8" transform="rotate(-45 662.2 299.8)" text-anchor="end" class="xl">Post3</text>
<text x="684.9" y="299.8" transform="rotate(-45 684.9 299.8)" text-anchor="end" class="xl">Post4</text>
<text x="707.6" y="299.8" transform="rotate(-45 707.6 299.8)" text-anchor="end" class="xl">Post5</text>
<text x="730.3" y="299.8" transform="rotate(-45 730.3 299.8)" text-anchor="end" class="xl">Post6</text>
<text x="753.0" y="299.8" transform="rotate(-45 753.0 299.8)" text-anchor="end" class="xl">Post7</text>
<text x="775.7" y="299.8" transform="rotate(-45 775.7 299.8)" text-anchor="end" class="xl">Post8</text>
<text x="667.8" y="340" text-anchor="middle" class="st">Step</text>
<text x="44" y="267.5" text-anchor="end" class="yl">-0.20</text>
<text x="44" y="240.5" text-anchor="end" class="yl">-0.15</text>
<text x="44" y="213.5" text-anchor="end" class="yl">-0.10</text>
<text x="44" y="186.5" text-anchor="end" class="yl">-0.05</text>
<text x="44" y="159.5" text-anchor="end" class="yl">0.00</text>
<text x="44" y="132.5" text-anchor="end" class="yl">0.05</text>
<text x="44" y="105.5" text-anchor="end" class="yl">0.10</text>
<text x="44" y="78.5" text-anchor="end" class="yl">0.15</text>
<text x="44" y="51.5" text-anchor="end" class="yl">0.20</text>
<text x="10.5" y="155.2" transform="rotate(-90 10.5 155.2)" text-anchor="middle" class="yt">Anteroposterior Margin of Stability [m]</text>
<text x="54.2" y="278.7" class="pn">Pert1<tspan dy="3" class="sub">R</tspan></text>
<text x="305.5" y="278.7" class="pn">Pert2<tspan dy="3" class="sub">L</tspan></text>
<text x="556.8" y="278.7" class="pn">Pert9<tspan dy="3" class="sub">L</tspan></text>
<line x1="110.6" y1="9" x2="201.6" y2="9" stroke="#000" stroke-width="2.2"/>
<text x="154.7" y="6.4" text-anchor="middle" class="an">BY</text>
<text x="111.5" y="22.2" text-anchor="middle" class="an">BO</text>
<line x1="156.3" y1="63.7" x2="268.2" y2="63.7" stroke="#000" stroke-width="2.2"/>
<text x="212.1" y="61.2" text-anchor="middle" class="an">BO</text>
<line x1="363" y1="18.1" x2="476.2" y2="18.1" stroke="#000" stroke-width="2.2"/>
<text x="419.5" y="15.7" text-anchor="middle" class="an">BY</text>
<line x1="427.1" y1="71.8" x2="520.8" y2="71.8" stroke="#000" stroke-width="2.2"/>
<text x="474" y="69.6" text-anchor="middle" class="an">BO</text>
<text x="384.9" y="79.4" text-anchor="middle" class="an">BO</text>
<line x1="612.8" y1="47.5" x2="680.9" y2="47.5" stroke="#000" stroke-width="2.2"/>
<text x="646.9" y="45.3" text-anchor="middle" class="an">BO+BY</text>
<text x="702.9" y="87.9" text-anchor="middle" class="an">BO</text>
<text x="110.7" y="36.3" text-anchor="middle" class="ast">*</text>
<text x="133.6" y="67.7" text-anchor="middle" class="ast">*</text>
<text x="156.70000000000002" y="112.5" text-anchor="middle" class="ast">*</text>
<text x="362.4" y="32.2" text-anchor="middle" class="ast">*</text>
<text x="475.79999999999995" y="109.7" text-anchor="middle" class="ast">*</text>
<text x="497.79999999999995" y="97.1" text-anchor="middle" class="ast">*</text>
<line x1="726" y1="255.7" x2="741.7" y2="255.7" stroke="#0000ff" stroke-width="1"/>
<circle cx="733.8" cy="255.7" r="3.4" fill="#0000ff"/>
<line x1="726" y1="275.5" x2="741.7" y2="275.5" stroke="#b0121b" stroke-width="1"/>
<path d="M733.8 272L737.3 275.5L733.8 279L730.3 275.5Z" fill="#fff" stroke="#b0121b" stroke-width="1.5"/>
<text x="751" y="260.3" class="lg">Young</text>
<text x="751" y="279.9" class="lg">Older</text>
</svg>
</body></html>
